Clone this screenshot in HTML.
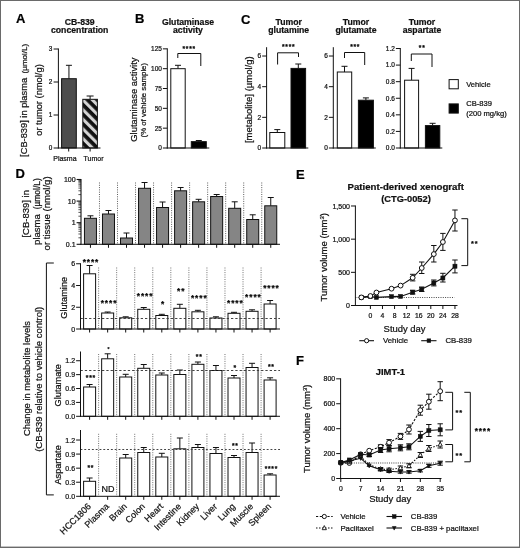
<!DOCTYPE html>
<html lang="en"><head><meta charset="utf-8"><title>CB-839 figure</title>
<style>html,body{margin:0;padding:0;background:#fff;}svg{display:block;}text{font-family:"Liberation Sans",sans-serif;stroke:#111;stroke-width:0.22px;}</style></head>
<body>
<svg width="520" height="548" viewBox="0 0 520 548" font-family='"Liberation Sans", sans-serif'>
<defs><pattern id="hatch" width="6.8" height="6.8" patternUnits="userSpaceOnUse" patternTransform="rotate(45 0 0)"><rect width="6.8" height="6.8" fill="#d4d4d4"/><rect x="0" y="0" width="6.8" height="3.7" fill="#111"/></pattern></defs>
<rect x="0" y="0" width="520" height="548" fill="#fff"/>
<text x="16.00" y="23.00" font-size="13" text-anchor="start" fill="#000" font-weight="bold">A</text>
<text x="135.00" y="23.00" font-size="13" text-anchor="start" fill="#000" font-weight="bold">B</text>
<text x="241.00" y="23.50" font-size="13" text-anchor="start" fill="#000" font-weight="bold">C</text>
<text x="15.60" y="178.30" font-size="13" text-anchor="start" fill="#000" font-weight="bold">D</text>
<text x="296.00" y="178.50" font-size="13" text-anchor="start" fill="#000" font-weight="bold">E</text>
<text x="296.00" y="364.50" font-size="13" text-anchor="start" fill="#000" font-weight="bold">F</text>
<text x="79.70" y="25.00" font-size="8.7" text-anchor="middle" fill="#111" font-weight="bold">CB-839</text>
<text x="79.70" y="33.30" font-size="8.7" text-anchor="middle" fill="#111" font-weight="bold">concentration</text>
<line x1="68.95" y1="65.30" x2="68.95" y2="78.70" stroke="#111" stroke-width="1" stroke-linecap="butt"/>
<line x1="65.95" y1="65.30" x2="71.95" y2="65.30" stroke="#111" stroke-width="1" stroke-linecap="butt"/>
<rect x="61.60" y="78.70" width="14.70" height="69.30" fill="#4d4d4d" stroke="#111" stroke-width="1"/>
<line x1="90.10" y1="96.00" x2="90.10" y2="99.32" stroke="#111" stroke-width="1" stroke-linecap="butt"/>
<line x1="86.60" y1="96.00" x2="93.60" y2="96.00" stroke="#111" stroke-width="1" stroke-linecap="butt"/>
<rect x="82.80" y="99.32" width="14.60" height="48.68" fill="url(#hatch)" stroke="#111" stroke-width="1"/>
<line x1="58.40" y1="48.50" x2="58.40" y2="148.50" stroke="#111" stroke-width="1" stroke-linecap="butt"/>
<line x1="53.60" y1="148.00" x2="58.40" y2="148.00" stroke="#111" stroke-width="1" stroke-linecap="butt"/>
<text x="52.40" y="150.30" font-size="6.4" text-anchor="end" fill="#111">0</text>
<line x1="53.60" y1="115.00" x2="58.40" y2="115.00" stroke="#111" stroke-width="1" stroke-linecap="butt"/>
<text x="52.40" y="117.30" font-size="6.4" text-anchor="end" fill="#111">1</text>
<line x1="53.60" y1="82.00" x2="58.40" y2="82.00" stroke="#111" stroke-width="1" stroke-linecap="butt"/>
<text x="52.40" y="84.30" font-size="6.4" text-anchor="end" fill="#111">2</text>
<line x1="53.60" y1="49.00" x2="58.40" y2="49.00" stroke="#111" stroke-width="1" stroke-linecap="butt"/>
<text x="52.40" y="51.30" font-size="6.4" text-anchor="end" fill="#111">3</text>
<line x1="57.90" y1="148.00" x2="100.50" y2="148.00" stroke="#111" stroke-width="1" stroke-linecap="butt"/>
<line x1="68.70" y1="148.00" x2="68.70" y2="151.50" stroke="#111" stroke-width="1" stroke-linecap="butt"/>
<line x1="90.10" y1="148.00" x2="90.10" y2="151.50" stroke="#111" stroke-width="1" stroke-linecap="butt"/>
<text x="64.90" y="160.50" font-size="7.0" text-anchor="middle" fill="#111">Plasma</text>
<text x="93.50" y="160.50" font-size="7.0" text-anchor="middle" fill="#111">Tumor</text>
<text x="27.20" y="156.90" font-size="9.3" text-anchor="start" fill="#111" transform="rotate(-90 27.20 156.90)" textLength="79.00" lengthAdjust="spacingAndGlyphs">[CB-839] in plasma</text>
<text x="26.90" y="73.40" font-size="7.8" text-anchor="start" fill="#111" transform="rotate(-90 26.90 73.40)" textLength="29.60" lengthAdjust="spacingAndGlyphs">(µmol/L)</text>
<text x="41.90" y="100.00" font-size="9.3" text-anchor="middle" fill="#111" transform="rotate(-90 41.90 100.00)" textLength="71.50" lengthAdjust="spacingAndGlyphs">or tumor (nmol/g)</text>
<text x="188.00" y="25.00" font-size="8.7" text-anchor="middle" fill="#111" font-weight="bold">Glutaminase</text>
<text x="188.00" y="33.10" font-size="8.7" text-anchor="middle" fill="#111" font-weight="bold">activity</text>
<line x1="178.00" y1="65.30" x2="178.00" y2="68.68" stroke="#111" stroke-width="1" stroke-linecap="butt"/>
<line x1="175.00" y1="65.30" x2="181.00" y2="65.30" stroke="#111" stroke-width="1" stroke-linecap="butt"/>
<rect x="170.80" y="68.68" width="14.40" height="79.32" fill="#fff" stroke="#111" stroke-width="1"/>
<line x1="198.80" y1="140.50" x2="198.80" y2="141.65" stroke="#111" stroke-width="1" stroke-linecap="butt"/>
<line x1="195.80" y1="140.50" x2="201.80" y2="140.50" stroke="#111" stroke-width="1" stroke-linecap="butt"/>
<rect x="191.30" y="141.65" width="15.00" height="6.35" fill="#000" stroke="#111" stroke-width="1"/>
<line x1="167.30" y1="48.35" x2="167.30" y2="148.50" stroke="#111" stroke-width="1" stroke-linecap="butt"/>
<line x1="162.90" y1="148.00" x2="167.30" y2="148.00" stroke="#111" stroke-width="1" stroke-linecap="butt"/>
<text x="161.90" y="150.34" font-size="6.5" text-anchor="end" fill="#111">0</text>
<line x1="162.90" y1="128.17" x2="167.30" y2="128.17" stroke="#111" stroke-width="1" stroke-linecap="butt"/>
<text x="161.90" y="130.51" font-size="6.5" text-anchor="end" fill="#111">25</text>
<line x1="162.90" y1="108.34" x2="167.30" y2="108.34" stroke="#111" stroke-width="1" stroke-linecap="butt"/>
<text x="161.90" y="110.68" font-size="6.5" text-anchor="end" fill="#111">50</text>
<line x1="162.90" y1="88.51" x2="167.30" y2="88.51" stroke="#111" stroke-width="1" stroke-linecap="butt"/>
<text x="161.90" y="90.85" font-size="6.5" text-anchor="end" fill="#111">75</text>
<line x1="162.90" y1="68.68" x2="167.30" y2="68.68" stroke="#111" stroke-width="1" stroke-linecap="butt"/>
<text x="161.90" y="71.02" font-size="6.5" text-anchor="end" fill="#111">100</text>
<line x1="162.90" y1="48.85" x2="167.30" y2="48.85" stroke="#111" stroke-width="1" stroke-linecap="butt"/>
<text x="161.90" y="51.19" font-size="6.5" text-anchor="end" fill="#111">125</text>
<line x1="166.80" y1="148.00" x2="209.30" y2="148.00" stroke="#111" stroke-width="1" stroke-linecap="butt"/>
<path d="M177.80 58.00 V53.50 H200.80 V66.00" fill="none" stroke="#111" stroke-width="1"/>
<text x="189.17" y="50.80" font-size="6.6" text-anchor="middle" fill="#000" font-weight="bold" letter-spacing="0.73" stroke="#000" stroke-width="0.3">****</text>
<text x="137.10" y="99.60" font-size="9.5" text-anchor="middle" fill="#111" transform="rotate(-90 137.10 99.60)" textLength="84.30" lengthAdjust="spacingAndGlyphs">Glutaminase activity</text>
<text x="146.50" y="100.20" font-size="7.7" text-anchor="middle" fill="#111" transform="rotate(-90 146.50 100.20)" textLength="74.50" lengthAdjust="spacingAndGlyphs">(% of vehicle sample)</text>
<text x="288.70" y="25.00" font-size="8.7" text-anchor="middle" fill="#111" font-weight="bold">Tumor</text>
<text x="288.70" y="33.10" font-size="8.7" text-anchor="middle" fill="#111" font-weight="bold">glutamine</text>
<line x1="277.30" y1="129.60" x2="277.30" y2="132.50" stroke="#111" stroke-width="1" stroke-linecap="butt"/>
<line x1="274.30" y1="129.60" x2="280.30" y2="129.60" stroke="#111" stroke-width="1" stroke-linecap="butt"/>
<rect x="269.80" y="132.50" width="15.00" height="15.50" fill="#fff" stroke="#111" stroke-width="1"/>
<line x1="298.30" y1="64.00" x2="298.30" y2="68.40" stroke="#111" stroke-width="1" stroke-linecap="butt"/>
<line x1="295.30" y1="64.00" x2="301.30" y2="64.00" stroke="#111" stroke-width="1" stroke-linecap="butt"/>
<rect x="291.00" y="68.40" width="14.60" height="79.60" fill="#000" stroke="#111" stroke-width="1"/>
<line x1="266.60" y1="47.20" x2="266.60" y2="148.50" stroke="#111" stroke-width="1" stroke-linecap="butt"/>
<line x1="262.20" y1="148.00" x2="266.60" y2="148.00" stroke="#111" stroke-width="1" stroke-linecap="butt"/>
<text x="261.20" y="150.34" font-size="6.5" text-anchor="end" fill="#111">0</text>
<line x1="262.20" y1="117.34" x2="266.60" y2="117.34" stroke="#111" stroke-width="1" stroke-linecap="butt"/>
<text x="261.20" y="119.68" font-size="6.5" text-anchor="end" fill="#111">2</text>
<line x1="262.20" y1="86.68" x2="266.60" y2="86.68" stroke="#111" stroke-width="1" stroke-linecap="butt"/>
<text x="261.20" y="89.02" font-size="6.5" text-anchor="end" fill="#111">4</text>
<line x1="262.20" y1="56.02" x2="266.60" y2="56.02" stroke="#111" stroke-width="1" stroke-linecap="butt"/>
<text x="261.20" y="58.36" font-size="6.5" text-anchor="end" fill="#111">6</text>
<line x1="266.10" y1="148.00" x2="308.30" y2="148.00" stroke="#111" stroke-width="1" stroke-linecap="butt"/>
<path d="M277.60 64.50 V52.80 H298.50 V57.00" fill="none" stroke="#111" stroke-width="1"/>
<text x="288.67" y="49.10" font-size="6.6" text-anchor="middle" fill="#000" font-weight="bold" letter-spacing="0.73" stroke="#000" stroke-width="0.3">****</text>
<text x="356.00" y="25.00" font-size="8.7" text-anchor="middle" fill="#111" font-weight="bold">Tumor</text>
<text x="356.00" y="33.10" font-size="8.7" text-anchor="middle" fill="#111" font-weight="bold">glutamate</text>
<line x1="344.50" y1="66.30" x2="344.50" y2="72.00" stroke="#111" stroke-width="1" stroke-linecap="butt"/>
<line x1="341.50" y1="66.30" x2="347.50" y2="66.30" stroke="#111" stroke-width="1" stroke-linecap="butt"/>
<rect x="337.30" y="72.00" width="14.40" height="76.00" fill="#fff" stroke="#111" stroke-width="1"/>
<line x1="365.90" y1="97.90" x2="365.90" y2="100.20" stroke="#111" stroke-width="1" stroke-linecap="butt"/>
<line x1="362.90" y1="97.90" x2="368.90" y2="97.90" stroke="#111" stroke-width="1" stroke-linecap="butt"/>
<rect x="358.40" y="100.20" width="15.00" height="47.80" fill="#000" stroke="#111" stroke-width="1"/>
<line x1="333.30" y1="47.20" x2="333.30" y2="148.50" stroke="#111" stroke-width="1" stroke-linecap="butt"/>
<line x1="328.90" y1="148.00" x2="333.30" y2="148.00" stroke="#111" stroke-width="1" stroke-linecap="butt"/>
<text x="327.90" y="150.34" font-size="6.5" text-anchor="end" fill="#111">0</text>
<line x1="328.90" y1="117.34" x2="333.30" y2="117.34" stroke="#111" stroke-width="1" stroke-linecap="butt"/>
<text x="327.90" y="119.68" font-size="6.5" text-anchor="end" fill="#111">2</text>
<line x1="328.90" y1="86.68" x2="333.30" y2="86.68" stroke="#111" stroke-width="1" stroke-linecap="butt"/>
<text x="327.90" y="89.02" font-size="6.5" text-anchor="end" fill="#111">4</text>
<line x1="328.90" y1="56.02" x2="333.30" y2="56.02" stroke="#111" stroke-width="1" stroke-linecap="butt"/>
<text x="327.90" y="58.36" font-size="6.5" text-anchor="end" fill="#111">6</text>
<line x1="332.80" y1="148.00" x2="375.80" y2="148.00" stroke="#111" stroke-width="1" stroke-linecap="butt"/>
<path d="M344.50 58.00 V52.50 H364.70 V65.00" fill="none" stroke="#111" stroke-width="1"/>
<text x="355.17" y="49.10" font-size="6.6" text-anchor="middle" fill="#000" font-weight="bold" letter-spacing="0.73" stroke="#000" stroke-width="0.3">***</text>
<text x="422.00" y="25.00" font-size="8.7" text-anchor="middle" fill="#111" font-weight="bold">Tumor</text>
<text x="422.00" y="33.10" font-size="8.7" text-anchor="middle" fill="#111" font-weight="bold">aspartate</text>
<line x1="411.60" y1="68.40" x2="411.60" y2="80.20" stroke="#111" stroke-width="1" stroke-linecap="butt"/>
<line x1="408.60" y1="68.40" x2="414.60" y2="68.40" stroke="#111" stroke-width="1" stroke-linecap="butt"/>
<rect x="404.60" y="80.20" width="14.00" height="67.80" fill="#fff" stroke="#111" stroke-width="1"/>
<line x1="432.60" y1="123.30" x2="432.60" y2="125.60" stroke="#111" stroke-width="1" stroke-linecap="butt"/>
<line x1="429.60" y1="123.30" x2="435.60" y2="123.30" stroke="#111" stroke-width="1" stroke-linecap="butt"/>
<rect x="425.40" y="125.60" width="14.40" height="22.40" fill="#000" stroke="#111" stroke-width="1"/>
<line x1="400.30" y1="48.02" x2="400.30" y2="148.50" stroke="#111" stroke-width="1" stroke-linecap="butt"/>
<line x1="395.90" y1="148.00" x2="400.30" y2="148.00" stroke="#111" stroke-width="1" stroke-linecap="butt"/>
<text x="394.90" y="150.34" font-size="6.5" text-anchor="end" fill="#111">0.0</text>
<line x1="395.90" y1="131.42" x2="400.30" y2="131.42" stroke="#111" stroke-width="1" stroke-linecap="butt"/>
<text x="394.90" y="133.76" font-size="6.5" text-anchor="end" fill="#111">0.2</text>
<line x1="395.90" y1="114.84" x2="400.30" y2="114.84" stroke="#111" stroke-width="1" stroke-linecap="butt"/>
<text x="394.90" y="117.18" font-size="6.5" text-anchor="end" fill="#111">0.4</text>
<line x1="395.90" y1="98.26" x2="400.30" y2="98.26" stroke="#111" stroke-width="1" stroke-linecap="butt"/>
<text x="394.90" y="100.60" font-size="6.5" text-anchor="end" fill="#111">0.6</text>
<line x1="395.90" y1="81.68" x2="400.30" y2="81.68" stroke="#111" stroke-width="1" stroke-linecap="butt"/>
<text x="394.90" y="84.02" font-size="6.5" text-anchor="end" fill="#111">0.8</text>
<line x1="395.90" y1="65.10" x2="400.30" y2="65.10" stroke="#111" stroke-width="1" stroke-linecap="butt"/>
<text x="394.90" y="67.44" font-size="6.5" text-anchor="end" fill="#111">1.0</text>
<line x1="395.90" y1="48.52" x2="400.30" y2="48.52" stroke="#111" stroke-width="1" stroke-linecap="butt"/>
<text x="394.90" y="50.86" font-size="6.5" text-anchor="end" fill="#111">1.2</text>
<line x1="399.80" y1="148.00" x2="442.30" y2="148.00" stroke="#111" stroke-width="1" stroke-linecap="butt"/>
<path d="M411.30 61.00 V54.00 H432.00 V67.00" fill="none" stroke="#111" stroke-width="1"/>
<text x="422.17" y="49.80" font-size="6.6" text-anchor="middle" fill="#000" font-weight="bold" letter-spacing="0.73" stroke="#000" stroke-width="0.3">**</text>
<text x="252.50" y="99.70" font-size="9.5" text-anchor="middle" fill="#111" transform="rotate(-90 252.50 99.70)" textLength="86.60" lengthAdjust="spacingAndGlyphs">[metabolite] (µmol/g)</text>
<rect x="449.10" y="79.60" width="9.20" height="9.20" fill="#fff" stroke="#111" stroke-width="1"/>
<rect x="449.10" y="103.90" width="9.20" height="9.20" fill="#000" stroke="#111" stroke-width="1"/>
<text x="466.20" y="86.70" font-size="7.6" text-anchor="start" fill="#111">Vehicle</text>
<text x="466.20" y="105.60" font-size="7.6" text-anchor="start" fill="#111">CB-839</text>
<text x="466.20" y="116.20" font-size="7.6" text-anchor="start" fill="#111">(200 mg/kg)</text>
<line x1="99.47" y1="182.50" x2="99.47" y2="244.30" stroke="#333" stroke-width="0.8" stroke-dasharray="1 1.3" stroke-linecap="butt"/>
<line x1="117.50" y1="182.50" x2="117.50" y2="244.30" stroke="#333" stroke-width="0.8" stroke-dasharray="1 1.3" stroke-linecap="butt"/>
<line x1="135.53" y1="182.50" x2="135.53" y2="244.30" stroke="#333" stroke-width="0.8" stroke-dasharray="1 1.3" stroke-linecap="butt"/>
<line x1="153.56" y1="182.50" x2="153.56" y2="244.30" stroke="#333" stroke-width="0.8" stroke-dasharray="1 1.3" stroke-linecap="butt"/>
<line x1="171.59" y1="182.50" x2="171.59" y2="244.30" stroke="#333" stroke-width="0.8" stroke-dasharray="1 1.3" stroke-linecap="butt"/>
<line x1="189.62" y1="182.50" x2="189.62" y2="244.30" stroke="#333" stroke-width="0.8" stroke-dasharray="1 1.3" stroke-linecap="butt"/>
<line x1="207.65" y1="182.50" x2="207.65" y2="244.30" stroke="#333" stroke-width="0.8" stroke-dasharray="1 1.3" stroke-linecap="butt"/>
<line x1="225.68" y1="182.50" x2="225.68" y2="244.30" stroke="#333" stroke-width="0.8" stroke-dasharray="1 1.3" stroke-linecap="butt"/>
<line x1="243.71" y1="182.50" x2="243.71" y2="244.30" stroke="#333" stroke-width="0.8" stroke-dasharray="1 1.3" stroke-linecap="butt"/>
<line x1="261.74" y1="182.50" x2="261.74" y2="244.30" stroke="#333" stroke-width="0.8" stroke-dasharray="1 1.3" stroke-linecap="butt"/>
<line x1="90.45" y1="215.80" x2="90.45" y2="218.30" stroke="#111" stroke-width="1" stroke-linecap="butt"/>
<line x1="87.45" y1="215.80" x2="93.45" y2="215.80" stroke="#111" stroke-width="1" stroke-linecap="butt"/>
<rect x="84.45" y="218.30" width="12.00" height="26.00" fill="#858585" stroke="#111" stroke-width="1"/>
<line x1="108.48" y1="210.50" x2="108.48" y2="214.00" stroke="#111" stroke-width="1" stroke-linecap="butt"/>
<line x1="105.48" y1="210.50" x2="111.48" y2="210.50" stroke="#111" stroke-width="1" stroke-linecap="butt"/>
<rect x="102.48" y="214.00" width="12.00" height="30.30" fill="#858585" stroke="#111" stroke-width="1"/>
<line x1="126.51" y1="233.00" x2="126.51" y2="238.00" stroke="#111" stroke-width="1" stroke-linecap="butt"/>
<line x1="123.51" y1="233.00" x2="129.51" y2="233.00" stroke="#111" stroke-width="1" stroke-linecap="butt"/>
<rect x="120.51" y="238.00" width="12.00" height="6.30" fill="#858585" stroke="#111" stroke-width="1"/>
<line x1="144.54" y1="182.50" x2="144.54" y2="188.30" stroke="#111" stroke-width="1" stroke-linecap="butt"/>
<line x1="141.54" y1="182.50" x2="147.54" y2="182.50" stroke="#111" stroke-width="1" stroke-linecap="butt"/>
<rect x="138.54" y="188.30" width="12.00" height="56.00" fill="#858585" stroke="#111" stroke-width="1"/>
<line x1="162.57" y1="202.00" x2="162.57" y2="207.50" stroke="#111" stroke-width="1" stroke-linecap="butt"/>
<line x1="159.57" y1="202.00" x2="165.57" y2="202.00" stroke="#111" stroke-width="1" stroke-linecap="butt"/>
<rect x="156.57" y="207.50" width="12.00" height="36.80" fill="#858585" stroke="#111" stroke-width="1"/>
<line x1="180.60" y1="187.50" x2="180.60" y2="190.80" stroke="#111" stroke-width="1" stroke-linecap="butt"/>
<line x1="177.60" y1="187.50" x2="183.60" y2="187.50" stroke="#111" stroke-width="1" stroke-linecap="butt"/>
<rect x="174.60" y="190.80" width="12.00" height="53.50" fill="#858585" stroke="#111" stroke-width="1"/>
<line x1="198.63" y1="199.30" x2="198.63" y2="201.80" stroke="#111" stroke-width="1" stroke-linecap="butt"/>
<line x1="195.63" y1="199.30" x2="201.63" y2="199.30" stroke="#111" stroke-width="1" stroke-linecap="butt"/>
<rect x="192.63" y="201.80" width="12.00" height="42.50" fill="#858585" stroke="#111" stroke-width="1"/>
<line x1="216.66" y1="194.50" x2="216.66" y2="196.50" stroke="#111" stroke-width="1" stroke-linecap="butt"/>
<line x1="213.66" y1="194.50" x2="219.66" y2="194.50" stroke="#111" stroke-width="1" stroke-linecap="butt"/>
<rect x="210.66" y="196.50" width="12.00" height="47.80" fill="#858585" stroke="#111" stroke-width="1"/>
<line x1="234.69" y1="201.80" x2="234.69" y2="208.30" stroke="#111" stroke-width="1" stroke-linecap="butt"/>
<line x1="231.69" y1="201.80" x2="237.69" y2="201.80" stroke="#111" stroke-width="1" stroke-linecap="butt"/>
<rect x="228.69" y="208.30" width="12.00" height="36.00" fill="#858585" stroke="#111" stroke-width="1"/>
<line x1="252.72" y1="214.80" x2="252.72" y2="219.50" stroke="#111" stroke-width="1" stroke-linecap="butt"/>
<line x1="249.72" y1="214.80" x2="255.72" y2="214.80" stroke="#111" stroke-width="1" stroke-linecap="butt"/>
<rect x="246.72" y="219.50" width="12.00" height="24.80" fill="#858585" stroke="#111" stroke-width="1"/>
<line x1="270.75" y1="197.50" x2="270.75" y2="205.80" stroke="#111" stroke-width="1" stroke-linecap="butt"/>
<line x1="267.75" y1="197.50" x2="273.75" y2="197.50" stroke="#111" stroke-width="1" stroke-linecap="butt"/>
<rect x="264.75" y="205.80" width="12.00" height="38.50" fill="#858585" stroke="#111" stroke-width="1"/>
<line x1="81.00" y1="178.95" x2="81.00" y2="244.85" stroke="#111" stroke-width="1.1" stroke-linecap="butt"/>
<line x1="76.60" y1="244.30" x2="81.00" y2="244.30" stroke="#111" stroke-width="1.1" stroke-linecap="butt"/>
<text x="75.60" y="246.82" font-size="7.0" text-anchor="end" fill="#111">0.1</text>
<line x1="76.60" y1="222.70" x2="81.00" y2="222.70" stroke="#111" stroke-width="1.1" stroke-linecap="butt"/>
<text x="75.60" y="225.22" font-size="7.0" text-anchor="end" fill="#111">1</text>
<line x1="76.60" y1="201.10" x2="81.00" y2="201.10" stroke="#111" stroke-width="1.1" stroke-linecap="butt"/>
<text x="75.60" y="203.62" font-size="7.0" text-anchor="end" fill="#111">10</text>
<line x1="76.60" y1="179.50" x2="81.00" y2="179.50" stroke="#111" stroke-width="1.1" stroke-linecap="butt"/>
<text x="75.60" y="182.02" font-size="7.0" text-anchor="end" fill="#111">100</text>
<line x1="78.40" y1="237.80" x2="81.00" y2="237.80" stroke="#111" stroke-width="0.7" stroke-linecap="butt"/>
<line x1="78.40" y1="233.99" x2="81.00" y2="233.99" stroke="#111" stroke-width="0.7" stroke-linecap="butt"/>
<line x1="78.40" y1="231.30" x2="81.00" y2="231.30" stroke="#111" stroke-width="0.7" stroke-linecap="butt"/>
<line x1="78.40" y1="229.20" x2="81.00" y2="229.20" stroke="#111" stroke-width="0.7" stroke-linecap="butt"/>
<line x1="78.40" y1="227.49" x2="81.00" y2="227.49" stroke="#111" stroke-width="0.7" stroke-linecap="butt"/>
<line x1="78.40" y1="226.05" x2="81.00" y2="226.05" stroke="#111" stroke-width="0.7" stroke-linecap="butt"/>
<line x1="78.40" y1="224.79" x2="81.00" y2="224.79" stroke="#111" stroke-width="0.7" stroke-linecap="butt"/>
<line x1="78.40" y1="223.69" x2="81.00" y2="223.69" stroke="#111" stroke-width="0.7" stroke-linecap="butt"/>
<line x1="78.40" y1="216.20" x2="81.00" y2="216.20" stroke="#111" stroke-width="0.7" stroke-linecap="butt"/>
<line x1="78.40" y1="212.39" x2="81.00" y2="212.39" stroke="#111" stroke-width="0.7" stroke-linecap="butt"/>
<line x1="78.40" y1="209.70" x2="81.00" y2="209.70" stroke="#111" stroke-width="0.7" stroke-linecap="butt"/>
<line x1="78.40" y1="207.60" x2="81.00" y2="207.60" stroke="#111" stroke-width="0.7" stroke-linecap="butt"/>
<line x1="78.40" y1="205.89" x2="81.00" y2="205.89" stroke="#111" stroke-width="0.7" stroke-linecap="butt"/>
<line x1="78.40" y1="204.45" x2="81.00" y2="204.45" stroke="#111" stroke-width="0.7" stroke-linecap="butt"/>
<line x1="78.40" y1="203.19" x2="81.00" y2="203.19" stroke="#111" stroke-width="0.7" stroke-linecap="butt"/>
<line x1="78.40" y1="202.09" x2="81.00" y2="202.09" stroke="#111" stroke-width="0.7" stroke-linecap="butt"/>
<line x1="78.40" y1="194.60" x2="81.00" y2="194.60" stroke="#111" stroke-width="0.7" stroke-linecap="butt"/>
<line x1="78.40" y1="190.79" x2="81.00" y2="190.79" stroke="#111" stroke-width="0.7" stroke-linecap="butt"/>
<line x1="78.40" y1="188.10" x2="81.00" y2="188.10" stroke="#111" stroke-width="0.7" stroke-linecap="butt"/>
<line x1="78.40" y1="186.00" x2="81.00" y2="186.00" stroke="#111" stroke-width="0.7" stroke-linecap="butt"/>
<line x1="78.40" y1="184.29" x2="81.00" y2="184.29" stroke="#111" stroke-width="0.7" stroke-linecap="butt"/>
<line x1="78.40" y1="182.85" x2="81.00" y2="182.85" stroke="#111" stroke-width="0.7" stroke-linecap="butt"/>
<line x1="78.40" y1="181.59" x2="81.00" y2="181.59" stroke="#111" stroke-width="0.7" stroke-linecap="butt"/>
<line x1="78.40" y1="180.49" x2="81.00" y2="180.49" stroke="#111" stroke-width="0.7" stroke-linecap="butt"/>
<line x1="80.50" y1="244.30" x2="280.00" y2="244.30" stroke="#111" stroke-width="1" stroke-linecap="butt"/>
<line x1="90.45" y1="244.30" x2="90.45" y2="247.80" stroke="#111" stroke-width="1" stroke-linecap="butt"/>
<line x1="108.48" y1="244.30" x2="108.48" y2="247.80" stroke="#111" stroke-width="1" stroke-linecap="butt"/>
<line x1="126.51" y1="244.30" x2="126.51" y2="247.80" stroke="#111" stroke-width="1" stroke-linecap="butt"/>
<line x1="144.54" y1="244.30" x2="144.54" y2="247.80" stroke="#111" stroke-width="1" stroke-linecap="butt"/>
<line x1="162.57" y1="244.30" x2="162.57" y2="247.80" stroke="#111" stroke-width="1" stroke-linecap="butt"/>
<line x1="180.60" y1="244.30" x2="180.60" y2="247.80" stroke="#111" stroke-width="1" stroke-linecap="butt"/>
<line x1="198.63" y1="244.30" x2="198.63" y2="247.80" stroke="#111" stroke-width="1" stroke-linecap="butt"/>
<line x1="216.66" y1="244.30" x2="216.66" y2="247.80" stroke="#111" stroke-width="1" stroke-linecap="butt"/>
<line x1="234.69" y1="244.30" x2="234.69" y2="247.80" stroke="#111" stroke-width="1" stroke-linecap="butt"/>
<line x1="252.72" y1="244.30" x2="252.72" y2="247.80" stroke="#111" stroke-width="1" stroke-linecap="butt"/>
<line x1="270.75" y1="244.30" x2="270.75" y2="247.80" stroke="#111" stroke-width="1" stroke-linecap="butt"/>
<text x="28.70" y="213.80" font-size="9.5" text-anchor="middle" fill="#111" transform="rotate(-90 28.70 213.80)" textLength="47.50" lengthAdjust="spacingAndGlyphs">[CB-839] in</text>
<text x="40.30" y="244.90" font-size="9.5" text-anchor="start" fill="#111" transform="rotate(-90 40.30 244.90)">plasma</text>
<text x="40.30" y="209.30" font-size="8.5" text-anchor="start" fill="#111" transform="rotate(-90 40.30 209.30)" textLength="31.00" lengthAdjust="spacingAndGlyphs">(µmol/L)</text>
<text x="50.30" y="213.40" font-size="9.5" text-anchor="middle" fill="#111" transform="rotate(-90 50.30 213.40)" textLength="74.00" lengthAdjust="spacingAndGlyphs">or tissue (nmol/g)</text>
<line x1="98.62" y1="267.50" x2="98.62" y2="329.00" stroke="#444" stroke-width="0.75" stroke-dasharray="1 1.3" stroke-linecap="butt"/>
<line x1="116.67" y1="267.50" x2="116.67" y2="329.00" stroke="#444" stroke-width="0.75" stroke-dasharray="1 1.3" stroke-linecap="butt"/>
<line x1="134.72" y1="267.50" x2="134.72" y2="329.00" stroke="#444" stroke-width="0.75" stroke-dasharray="1 1.3" stroke-linecap="butt"/>
<line x1="152.78" y1="267.50" x2="152.78" y2="329.00" stroke="#444" stroke-width="0.75" stroke-dasharray="1 1.3" stroke-linecap="butt"/>
<line x1="170.82" y1="267.50" x2="170.82" y2="329.00" stroke="#444" stroke-width="0.75" stroke-dasharray="1 1.3" stroke-linecap="butt"/>
<line x1="188.88" y1="267.50" x2="188.88" y2="329.00" stroke="#444" stroke-width="0.75" stroke-dasharray="1 1.3" stroke-linecap="butt"/>
<line x1="206.93" y1="267.50" x2="206.93" y2="329.00" stroke="#444" stroke-width="0.75" stroke-dasharray="1 1.3" stroke-linecap="butt"/>
<line x1="224.97" y1="267.50" x2="224.97" y2="329.00" stroke="#444" stroke-width="0.75" stroke-dasharray="1 1.3" stroke-linecap="butt"/>
<line x1="243.03" y1="267.50" x2="243.03" y2="329.00" stroke="#444" stroke-width="0.75" stroke-dasharray="1 1.3" stroke-linecap="butt"/>
<line x1="261.08" y1="267.50" x2="261.08" y2="329.00" stroke="#444" stroke-width="0.75" stroke-dasharray="1 1.3" stroke-linecap="butt"/>
<line x1="89.60" y1="265.50" x2="89.60" y2="273.80" stroke="#111" stroke-width="1" stroke-linecap="butt"/>
<line x1="86.60" y1="265.50" x2="92.60" y2="265.50" stroke="#111" stroke-width="1" stroke-linecap="butt"/>
<rect x="83.60" y="273.80" width="12.00" height="55.20" fill="#fff" stroke="#111" stroke-width="1"/>
<line x1="107.65" y1="312.00" x2="107.65" y2="313.00" stroke="#111" stroke-width="1" stroke-linecap="butt"/>
<line x1="104.65" y1="312.00" x2="110.65" y2="312.00" stroke="#111" stroke-width="1" stroke-linecap="butt"/>
<rect x="101.65" y="313.00" width="12.00" height="16.00" fill="#fff" stroke="#111" stroke-width="1"/>
<line x1="125.70" y1="316.80" x2="125.70" y2="317.80" stroke="#111" stroke-width="1" stroke-linecap="butt"/>
<line x1="122.70" y1="316.80" x2="128.70" y2="316.80" stroke="#111" stroke-width="1" stroke-linecap="butt"/>
<rect x="119.70" y="317.80" width="12.00" height="11.20" fill="#fff" stroke="#111" stroke-width="1"/>
<line x1="143.75" y1="307.50" x2="143.75" y2="309.30" stroke="#111" stroke-width="1" stroke-linecap="butt"/>
<line x1="140.75" y1="307.50" x2="146.75" y2="307.50" stroke="#111" stroke-width="1" stroke-linecap="butt"/>
<rect x="137.75" y="309.30" width="12.00" height="19.70" fill="#fff" stroke="#111" stroke-width="1"/>
<line x1="161.80" y1="314.30" x2="161.80" y2="315.50" stroke="#111" stroke-width="1" stroke-linecap="butt"/>
<line x1="158.80" y1="314.30" x2="164.80" y2="314.30" stroke="#111" stroke-width="1" stroke-linecap="butt"/>
<rect x="155.80" y="315.50" width="12.00" height="13.50" fill="#fff" stroke="#111" stroke-width="1"/>
<line x1="179.85" y1="304.30" x2="179.85" y2="308.30" stroke="#111" stroke-width="1" stroke-linecap="butt"/>
<line x1="176.85" y1="304.30" x2="182.85" y2="304.30" stroke="#111" stroke-width="1" stroke-linecap="butt"/>
<rect x="173.85" y="308.30" width="12.00" height="20.70" fill="#fff" stroke="#111" stroke-width="1"/>
<line x1="197.90" y1="310.30" x2="197.90" y2="311.80" stroke="#111" stroke-width="1" stroke-linecap="butt"/>
<line x1="194.90" y1="310.30" x2="200.90" y2="310.30" stroke="#111" stroke-width="1" stroke-linecap="butt"/>
<rect x="191.90" y="311.80" width="12.00" height="17.20" fill="#fff" stroke="#111" stroke-width="1"/>
<line x1="215.95" y1="316.80" x2="215.95" y2="318.00" stroke="#111" stroke-width="1" stroke-linecap="butt"/>
<line x1="212.95" y1="316.80" x2="218.95" y2="316.80" stroke="#111" stroke-width="1" stroke-linecap="butt"/>
<rect x="209.95" y="318.00" width="12.00" height="11.00" fill="#fff" stroke="#111" stroke-width="1"/>
<line x1="234.00" y1="312.30" x2="234.00" y2="313.30" stroke="#111" stroke-width="1" stroke-linecap="butt"/>
<line x1="231.00" y1="312.30" x2="237.00" y2="312.30" stroke="#111" stroke-width="1" stroke-linecap="butt"/>
<rect x="228.00" y="313.30" width="12.00" height="15.70" fill="#fff" stroke="#111" stroke-width="1"/>
<line x1="252.05" y1="309.80" x2="252.05" y2="311.30" stroke="#111" stroke-width="1" stroke-linecap="butt"/>
<line x1="249.05" y1="309.80" x2="255.05" y2="309.80" stroke="#111" stroke-width="1" stroke-linecap="butt"/>
<rect x="246.05" y="311.30" width="12.00" height="17.70" fill="#fff" stroke="#111" stroke-width="1"/>
<line x1="270.10" y1="300.50" x2="270.10" y2="304.00" stroke="#111" stroke-width="1" stroke-linecap="butt"/>
<line x1="267.10" y1="300.50" x2="273.10" y2="300.50" stroke="#111" stroke-width="1" stroke-linecap="butt"/>
<rect x="264.10" y="304.00" width="12.00" height="25.00" fill="#fff" stroke="#111" stroke-width="1"/>
<line x1="80.50" y1="318.50" x2="280.00" y2="318.50" stroke="#3a3a3a" stroke-width="0.95" stroke-dasharray="2.3 2" stroke-linecap="butt"/>
<line x1="80.50" y1="263.25" x2="80.50" y2="329.50" stroke="#111" stroke-width="1" stroke-linecap="butt"/>
<line x1="76.10" y1="329.00" x2="80.50" y2="329.00" stroke="#111" stroke-width="1" stroke-linecap="butt"/>
<text x="75.10" y="331.52" font-size="7.0" text-anchor="end" fill="#111">0</text>
<line x1="76.10" y1="307.25" x2="80.50" y2="307.25" stroke="#111" stroke-width="1" stroke-linecap="butt"/>
<text x="75.10" y="309.77" font-size="7.0" text-anchor="end" fill="#111">2</text>
<line x1="76.10" y1="285.50" x2="80.50" y2="285.50" stroke="#111" stroke-width="1" stroke-linecap="butt"/>
<text x="75.10" y="288.02" font-size="7.0" text-anchor="end" fill="#111">4</text>
<line x1="76.10" y1="263.75" x2="80.50" y2="263.75" stroke="#111" stroke-width="1" stroke-linecap="butt"/>
<text x="75.10" y="266.27" font-size="7.0" text-anchor="end" fill="#111">6</text>
<line x1="80.00" y1="329.00" x2="280.00" y2="329.00" stroke="#111" stroke-width="1" stroke-linecap="butt"/>
<line x1="89.60" y1="329.00" x2="89.60" y2="332.50" stroke="#111" stroke-width="1" stroke-linecap="butt"/>
<line x1="107.65" y1="329.00" x2="107.65" y2="332.50" stroke="#111" stroke-width="1" stroke-linecap="butt"/>
<line x1="125.70" y1="329.00" x2="125.70" y2="332.50" stroke="#111" stroke-width="1" stroke-linecap="butt"/>
<line x1="143.75" y1="329.00" x2="143.75" y2="332.50" stroke="#111" stroke-width="1" stroke-linecap="butt"/>
<line x1="161.80" y1="329.00" x2="161.80" y2="332.50" stroke="#111" stroke-width="1" stroke-linecap="butt"/>
<line x1="179.85" y1="329.00" x2="179.85" y2="332.50" stroke="#111" stroke-width="1" stroke-linecap="butt"/>
<line x1="197.90" y1="329.00" x2="197.90" y2="332.50" stroke="#111" stroke-width="1" stroke-linecap="butt"/>
<line x1="215.95" y1="329.00" x2="215.95" y2="332.50" stroke="#111" stroke-width="1" stroke-linecap="butt"/>
<line x1="234.00" y1="329.00" x2="234.00" y2="332.50" stroke="#111" stroke-width="1" stroke-linecap="butt"/>
<line x1="252.05" y1="329.00" x2="252.05" y2="332.50" stroke="#111" stroke-width="1" stroke-linecap="butt"/>
<line x1="270.10" y1="329.00" x2="270.10" y2="332.50" stroke="#111" stroke-width="1" stroke-linecap="butt"/>
<text x="66.90" y="297.80" font-size="9.2" text-anchor="middle" fill="#111" transform="rotate(-90 66.90 297.80)">Glutamine</text>
<text x="90.96" y="265.45" font-size="8.3" text-anchor="middle" fill="#000" font-weight="bold" letter-spacing="0.92" stroke="#000" stroke-width="0.3">****</text>
<text x="109.01" y="305.85" font-size="8.3" text-anchor="middle" fill="#000" font-weight="bold" letter-spacing="0.92" stroke="#000" stroke-width="0.3">****</text>
<text x="145.11" y="298.55" font-size="8.3" text-anchor="middle" fill="#000" font-weight="bold" letter-spacing="0.92" stroke="#000" stroke-width="0.3">****</text>
<text x="163.16" y="307.25" font-size="8.3" text-anchor="middle" fill="#000" font-weight="bold" letter-spacing="0.92" stroke="#000" stroke-width="0.3">*</text>
<text x="181.21" y="293.75" font-size="8.3" text-anchor="middle" fill="#000" font-weight="bold" letter-spacing="0.92" stroke="#000" stroke-width="0.3">**</text>
<text x="199.26" y="301.15" font-size="8.3" text-anchor="middle" fill="#000" font-weight="bold" letter-spacing="0.92" stroke="#000" stroke-width="0.3">****</text>
<text x="235.36" y="305.95" font-size="8.3" text-anchor="middle" fill="#000" font-weight="bold" letter-spacing="0.92" stroke="#000" stroke-width="0.3">****</text>
<text x="253.41" y="299.95" font-size="8.3" text-anchor="middle" fill="#000" font-weight="bold" letter-spacing="0.92" stroke="#000" stroke-width="0.3">****</text>
<text x="271.46" y="290.95" font-size="8.3" text-anchor="middle" fill="#000" font-weight="bold" letter-spacing="0.92" stroke="#000" stroke-width="0.3">****</text>
<line x1="98.62" y1="354.00" x2="98.62" y2="416.30" stroke="#444" stroke-width="0.75" stroke-dasharray="1 1.3" stroke-linecap="butt"/>
<line x1="116.67" y1="354.00" x2="116.67" y2="416.30" stroke="#444" stroke-width="0.75" stroke-dasharray="1 1.3" stroke-linecap="butt"/>
<line x1="134.72" y1="354.00" x2="134.72" y2="416.30" stroke="#444" stroke-width="0.75" stroke-dasharray="1 1.3" stroke-linecap="butt"/>
<line x1="152.78" y1="354.00" x2="152.78" y2="416.30" stroke="#444" stroke-width="0.75" stroke-dasharray="1 1.3" stroke-linecap="butt"/>
<line x1="170.82" y1="354.00" x2="170.82" y2="416.30" stroke="#444" stroke-width="0.75" stroke-dasharray="1 1.3" stroke-linecap="butt"/>
<line x1="188.88" y1="354.00" x2="188.88" y2="416.30" stroke="#444" stroke-width="0.75" stroke-dasharray="1 1.3" stroke-linecap="butt"/>
<line x1="206.93" y1="354.00" x2="206.93" y2="416.30" stroke="#444" stroke-width="0.75" stroke-dasharray="1 1.3" stroke-linecap="butt"/>
<line x1="224.97" y1="354.00" x2="224.97" y2="416.30" stroke="#444" stroke-width="0.75" stroke-dasharray="1 1.3" stroke-linecap="butt"/>
<line x1="243.03" y1="354.00" x2="243.03" y2="416.30" stroke="#444" stroke-width="0.75" stroke-dasharray="1 1.3" stroke-linecap="butt"/>
<line x1="261.08" y1="354.00" x2="261.08" y2="416.30" stroke="#444" stroke-width="0.75" stroke-dasharray="1 1.3" stroke-linecap="butt"/>
<line x1="89.60" y1="384.50" x2="89.60" y2="387.00" stroke="#111" stroke-width="1" stroke-linecap="butt"/>
<line x1="86.60" y1="384.50" x2="92.60" y2="384.50" stroke="#111" stroke-width="1" stroke-linecap="butt"/>
<rect x="83.60" y="387.00" width="12.00" height="29.30" fill="#fff" stroke="#111" stroke-width="1"/>
<line x1="107.65" y1="353.80" x2="107.65" y2="358.80" stroke="#111" stroke-width="1" stroke-linecap="butt"/>
<line x1="104.65" y1="353.80" x2="110.65" y2="353.80" stroke="#111" stroke-width="1" stroke-linecap="butt"/>
<rect x="101.65" y="358.80" width="12.00" height="57.50" fill="#fff" stroke="#111" stroke-width="1"/>
<line x1="125.70" y1="374.30" x2="125.70" y2="377.00" stroke="#111" stroke-width="1" stroke-linecap="butt"/>
<line x1="122.70" y1="374.30" x2="128.70" y2="374.30" stroke="#111" stroke-width="1" stroke-linecap="butt"/>
<rect x="119.70" y="377.00" width="12.00" height="39.30" fill="#fff" stroke="#111" stroke-width="1"/>
<line x1="143.75" y1="364.50" x2="143.75" y2="368.30" stroke="#111" stroke-width="1" stroke-linecap="butt"/>
<line x1="140.75" y1="364.50" x2="146.75" y2="364.50" stroke="#111" stroke-width="1" stroke-linecap="butt"/>
<rect x="137.75" y="368.30" width="12.00" height="48.00" fill="#fff" stroke="#111" stroke-width="1"/>
<line x1="161.80" y1="373.00" x2="161.80" y2="375.00" stroke="#111" stroke-width="1" stroke-linecap="butt"/>
<line x1="158.80" y1="373.00" x2="164.80" y2="373.00" stroke="#111" stroke-width="1" stroke-linecap="butt"/>
<rect x="155.80" y="375.00" width="12.00" height="41.30" fill="#fff" stroke="#111" stroke-width="1"/>
<line x1="179.85" y1="370.00" x2="179.85" y2="374.50" stroke="#111" stroke-width="1" stroke-linecap="butt"/>
<line x1="176.85" y1="370.00" x2="182.85" y2="370.00" stroke="#111" stroke-width="1" stroke-linecap="butt"/>
<rect x="173.85" y="374.50" width="12.00" height="41.80" fill="#fff" stroke="#111" stroke-width="1"/>
<line x1="197.90" y1="362.00" x2="197.90" y2="364.30" stroke="#111" stroke-width="1" stroke-linecap="butt"/>
<line x1="194.90" y1="362.00" x2="200.90" y2="362.00" stroke="#111" stroke-width="1" stroke-linecap="butt"/>
<rect x="191.90" y="364.30" width="12.00" height="52.00" fill="#fff" stroke="#111" stroke-width="1"/>
<line x1="215.95" y1="365.50" x2="215.95" y2="370.50" stroke="#111" stroke-width="1" stroke-linecap="butt"/>
<line x1="212.95" y1="365.50" x2="218.95" y2="365.50" stroke="#111" stroke-width="1" stroke-linecap="butt"/>
<rect x="209.95" y="370.50" width="12.00" height="45.80" fill="#fff" stroke="#111" stroke-width="1"/>
<line x1="234.00" y1="375.50" x2="234.00" y2="378.00" stroke="#111" stroke-width="1" stroke-linecap="butt"/>
<line x1="231.00" y1="375.50" x2="237.00" y2="375.50" stroke="#111" stroke-width="1" stroke-linecap="butt"/>
<rect x="228.00" y="378.00" width="12.00" height="38.30" fill="#fff" stroke="#111" stroke-width="1"/>
<line x1="252.05" y1="363.30" x2="252.05" y2="367.50" stroke="#111" stroke-width="1" stroke-linecap="butt"/>
<line x1="249.05" y1="363.30" x2="255.05" y2="363.30" stroke="#111" stroke-width="1" stroke-linecap="butt"/>
<rect x="246.05" y="367.50" width="12.00" height="48.80" fill="#fff" stroke="#111" stroke-width="1"/>
<line x1="270.10" y1="377.80" x2="270.10" y2="380.00" stroke="#111" stroke-width="1" stroke-linecap="butt"/>
<line x1="267.10" y1="377.80" x2="273.10" y2="377.80" stroke="#111" stroke-width="1" stroke-linecap="butt"/>
<rect x="264.10" y="380.00" width="12.00" height="36.30" fill="#fff" stroke="#111" stroke-width="1"/>
<line x1="80.50" y1="370.50" x2="280.00" y2="370.50" stroke="#3a3a3a" stroke-width="0.95" stroke-dasharray="2.3 2" stroke-linecap="butt"/>
<line x1="80.50" y1="351.50" x2="80.50" y2="416.80" stroke="#111" stroke-width="1" stroke-linecap="butt"/>
<line x1="76.10" y1="416.30" x2="80.50" y2="416.30" stroke="#111" stroke-width="1" stroke-linecap="butt"/>
<text x="75.10" y="418.82" font-size="7.0" text-anchor="end" fill="#111">0.0</text>
<line x1="76.10" y1="402.41" x2="80.50" y2="402.41" stroke="#111" stroke-width="1" stroke-linecap="butt"/>
<text x="75.10" y="404.93" font-size="7.0" text-anchor="end" fill="#111">0.3</text>
<line x1="76.10" y1="388.52" x2="80.50" y2="388.52" stroke="#111" stroke-width="1" stroke-linecap="butt"/>
<text x="75.10" y="391.04" font-size="7.0" text-anchor="end" fill="#111">0.6</text>
<line x1="76.10" y1="374.63" x2="80.50" y2="374.63" stroke="#111" stroke-width="1" stroke-linecap="butt"/>
<text x="75.10" y="377.15" font-size="7.0" text-anchor="end" fill="#111">0.9</text>
<line x1="76.10" y1="360.74" x2="80.50" y2="360.74" stroke="#111" stroke-width="1" stroke-linecap="butt"/>
<text x="75.10" y="363.26" font-size="7.0" text-anchor="end" fill="#111">1.2</text>
<line x1="80.00" y1="416.30" x2="280.00" y2="416.30" stroke="#111" stroke-width="1" stroke-linecap="butt"/>
<line x1="89.60" y1="416.30" x2="89.60" y2="419.80" stroke="#111" stroke-width="1" stroke-linecap="butt"/>
<line x1="107.65" y1="416.30" x2="107.65" y2="419.80" stroke="#111" stroke-width="1" stroke-linecap="butt"/>
<line x1="125.70" y1="416.30" x2="125.70" y2="419.80" stroke="#111" stroke-width="1" stroke-linecap="butt"/>
<line x1="143.75" y1="416.30" x2="143.75" y2="419.80" stroke="#111" stroke-width="1" stroke-linecap="butt"/>
<line x1="161.80" y1="416.30" x2="161.80" y2="419.80" stroke="#111" stroke-width="1" stroke-linecap="butt"/>
<line x1="179.85" y1="416.30" x2="179.85" y2="419.80" stroke="#111" stroke-width="1" stroke-linecap="butt"/>
<line x1="197.90" y1="416.30" x2="197.90" y2="419.80" stroke="#111" stroke-width="1" stroke-linecap="butt"/>
<line x1="215.95" y1="416.30" x2="215.95" y2="419.80" stroke="#111" stroke-width="1" stroke-linecap="butt"/>
<line x1="234.00" y1="416.30" x2="234.00" y2="419.80" stroke="#111" stroke-width="1" stroke-linecap="butt"/>
<line x1="252.05" y1="416.30" x2="252.05" y2="419.80" stroke="#111" stroke-width="1" stroke-linecap="butt"/>
<line x1="270.10" y1="416.30" x2="270.10" y2="419.80" stroke="#111" stroke-width="1" stroke-linecap="butt"/>
<text x="60.80" y="385.20" font-size="9.2" text-anchor="middle" fill="#111" transform="rotate(-90 60.80 385.20)">Glutamate</text>
<text x="90.88" y="380.00" font-size="6.8" text-anchor="middle" fill="#000" font-weight="bold" letter-spacing="0.75" stroke="#000" stroke-width="0.3">***</text>
<text x="108.83" y="351.20" font-size="5.0" text-anchor="middle" fill="#000" font-weight="bold" letter-spacing="0.55" stroke="#000" stroke-width="0.3">*</text>
<text x="199.18" y="359.40" font-size="6.8" text-anchor="middle" fill="#000" font-weight="bold" letter-spacing="0.75" stroke="#000" stroke-width="0.3">**</text>
<text x="235.28" y="370.20" font-size="6.8" text-anchor="middle" fill="#000" font-weight="bold" letter-spacing="0.75" stroke="#000" stroke-width="0.3">*</text>
<text x="271.38" y="368.90" font-size="6.8" text-anchor="middle" fill="#000" font-weight="bold" letter-spacing="0.75" stroke="#000" stroke-width="0.3">**</text>
<line x1="98.62" y1="433.80" x2="98.62" y2="496.30" stroke="#444" stroke-width="0.75" stroke-dasharray="1 1.3" stroke-linecap="butt"/>
<line x1="116.67" y1="433.80" x2="116.67" y2="496.30" stroke="#444" stroke-width="0.75" stroke-dasharray="1 1.3" stroke-linecap="butt"/>
<line x1="134.72" y1="433.80" x2="134.72" y2="496.30" stroke="#444" stroke-width="0.75" stroke-dasharray="1 1.3" stroke-linecap="butt"/>
<line x1="152.78" y1="433.80" x2="152.78" y2="496.30" stroke="#444" stroke-width="0.75" stroke-dasharray="1 1.3" stroke-linecap="butt"/>
<line x1="170.82" y1="433.80" x2="170.82" y2="496.30" stroke="#444" stroke-width="0.75" stroke-dasharray="1 1.3" stroke-linecap="butt"/>
<line x1="188.88" y1="433.80" x2="188.88" y2="496.30" stroke="#444" stroke-width="0.75" stroke-dasharray="1 1.3" stroke-linecap="butt"/>
<line x1="206.93" y1="433.80" x2="206.93" y2="496.30" stroke="#444" stroke-width="0.75" stroke-dasharray="1 1.3" stroke-linecap="butt"/>
<line x1="224.97" y1="433.80" x2="224.97" y2="496.30" stroke="#444" stroke-width="0.75" stroke-dasharray="1 1.3" stroke-linecap="butt"/>
<line x1="243.03" y1="433.80" x2="243.03" y2="496.30" stroke="#444" stroke-width="0.75" stroke-dasharray="1 1.3" stroke-linecap="butt"/>
<line x1="261.08" y1="433.80" x2="261.08" y2="496.30" stroke="#444" stroke-width="0.75" stroke-dasharray="1 1.3" stroke-linecap="butt"/>
<line x1="89.60" y1="478.00" x2="89.60" y2="481.30" stroke="#111" stroke-width="1" stroke-linecap="butt"/>
<line x1="86.60" y1="478.00" x2="92.60" y2="478.00" stroke="#111" stroke-width="1" stroke-linecap="butt"/>
<rect x="83.60" y="481.30" width="12.00" height="15.00" fill="#fff" stroke="#111" stroke-width="1"/>
<line x1="125.70" y1="454.50" x2="125.70" y2="458.00" stroke="#111" stroke-width="1" stroke-linecap="butt"/>
<line x1="122.70" y1="454.50" x2="128.70" y2="454.50" stroke="#111" stroke-width="1" stroke-linecap="butt"/>
<rect x="119.70" y="458.00" width="12.00" height="38.30" fill="#fff" stroke="#111" stroke-width="1"/>
<line x1="143.75" y1="447.50" x2="143.75" y2="452.50" stroke="#111" stroke-width="1" stroke-linecap="butt"/>
<line x1="140.75" y1="447.50" x2="146.75" y2="447.50" stroke="#111" stroke-width="1" stroke-linecap="butt"/>
<rect x="137.75" y="452.50" width="12.00" height="43.80" fill="#fff" stroke="#111" stroke-width="1"/>
<line x1="161.80" y1="453.30" x2="161.80" y2="457.00" stroke="#111" stroke-width="1" stroke-linecap="butt"/>
<line x1="158.80" y1="453.30" x2="164.80" y2="453.30" stroke="#111" stroke-width="1" stroke-linecap="butt"/>
<rect x="155.80" y="457.00" width="12.00" height="39.30" fill="#fff" stroke="#111" stroke-width="1"/>
<line x1="179.85" y1="438.00" x2="179.85" y2="448.80" stroke="#111" stroke-width="1" stroke-linecap="butt"/>
<line x1="176.85" y1="438.00" x2="182.85" y2="438.00" stroke="#111" stroke-width="1" stroke-linecap="butt"/>
<rect x="173.85" y="448.80" width="12.00" height="47.50" fill="#fff" stroke="#111" stroke-width="1"/>
<line x1="197.90" y1="444.50" x2="197.90" y2="447.50" stroke="#111" stroke-width="1" stroke-linecap="butt"/>
<line x1="194.90" y1="444.50" x2="200.90" y2="444.50" stroke="#111" stroke-width="1" stroke-linecap="butt"/>
<rect x="191.90" y="447.50" width="12.00" height="48.80" fill="#fff" stroke="#111" stroke-width="1"/>
<line x1="215.95" y1="447.50" x2="215.95" y2="453.50" stroke="#111" stroke-width="1" stroke-linecap="butt"/>
<line x1="212.95" y1="447.50" x2="218.95" y2="447.50" stroke="#111" stroke-width="1" stroke-linecap="butt"/>
<rect x="209.95" y="453.50" width="12.00" height="42.80" fill="#fff" stroke="#111" stroke-width="1"/>
<line x1="234.00" y1="455.50" x2="234.00" y2="457.50" stroke="#111" stroke-width="1" stroke-linecap="butt"/>
<line x1="231.00" y1="455.50" x2="237.00" y2="455.50" stroke="#111" stroke-width="1" stroke-linecap="butt"/>
<rect x="228.00" y="457.50" width="12.00" height="38.80" fill="#fff" stroke="#111" stroke-width="1"/>
<line x1="252.05" y1="443.00" x2="252.05" y2="452.50" stroke="#111" stroke-width="1" stroke-linecap="butt"/>
<line x1="249.05" y1="443.00" x2="255.05" y2="443.00" stroke="#111" stroke-width="1" stroke-linecap="butt"/>
<rect x="246.05" y="452.50" width="12.00" height="43.80" fill="#fff" stroke="#111" stroke-width="1"/>
<line x1="270.10" y1="473.80" x2="270.10" y2="475.00" stroke="#111" stroke-width="1" stroke-linecap="butt"/>
<line x1="267.10" y1="473.80" x2="273.10" y2="473.80" stroke="#111" stroke-width="1" stroke-linecap="butt"/>
<rect x="264.10" y="475.00" width="12.00" height="21.30" fill="#fff" stroke="#111" stroke-width="1"/>
<line x1="80.50" y1="449.50" x2="280.00" y2="449.50" stroke="#3a3a3a" stroke-width="0.95" stroke-dasharray="1.9 1.9" stroke-linecap="butt"/>
<line x1="80.50" y1="430.00" x2="80.50" y2="496.80" stroke="#111" stroke-width="1" stroke-linecap="butt"/>
<line x1="76.10" y1="496.30" x2="80.50" y2="496.30" stroke="#111" stroke-width="1" stroke-linecap="butt"/>
<text x="75.10" y="498.82" font-size="7.0" text-anchor="end" fill="#111">0.0</text>
<line x1="76.10" y1="482.23" x2="80.50" y2="482.23" stroke="#111" stroke-width="1" stroke-linecap="butt"/>
<text x="75.10" y="484.75" font-size="7.0" text-anchor="end" fill="#111">0.3</text>
<line x1="76.10" y1="468.16" x2="80.50" y2="468.16" stroke="#111" stroke-width="1" stroke-linecap="butt"/>
<text x="75.10" y="470.68" font-size="7.0" text-anchor="end" fill="#111">0.6</text>
<line x1="76.10" y1="454.09" x2="80.50" y2="454.09" stroke="#111" stroke-width="1" stroke-linecap="butt"/>
<text x="75.10" y="456.61" font-size="7.0" text-anchor="end" fill="#111">0.9</text>
<line x1="76.10" y1="440.02" x2="80.50" y2="440.02" stroke="#111" stroke-width="1" stroke-linecap="butt"/>
<text x="75.10" y="442.54" font-size="7.0" text-anchor="end" fill="#111">1.2</text>
<line x1="80.00" y1="496.30" x2="280.00" y2="496.30" stroke="#111" stroke-width="1" stroke-linecap="butt"/>
<line x1="89.60" y1="496.30" x2="89.60" y2="499.80" stroke="#111" stroke-width="1" stroke-linecap="butt"/>
<line x1="107.65" y1="496.30" x2="107.65" y2="499.80" stroke="#111" stroke-width="1" stroke-linecap="butt"/>
<line x1="125.70" y1="496.30" x2="125.70" y2="499.80" stroke="#111" stroke-width="1" stroke-linecap="butt"/>
<line x1="143.75" y1="496.30" x2="143.75" y2="499.80" stroke="#111" stroke-width="1" stroke-linecap="butt"/>
<line x1="161.80" y1="496.30" x2="161.80" y2="499.80" stroke="#111" stroke-width="1" stroke-linecap="butt"/>
<line x1="179.85" y1="496.30" x2="179.85" y2="499.80" stroke="#111" stroke-width="1" stroke-linecap="butt"/>
<line x1="197.90" y1="496.30" x2="197.90" y2="499.80" stroke="#111" stroke-width="1" stroke-linecap="butt"/>
<line x1="215.95" y1="496.30" x2="215.95" y2="499.80" stroke="#111" stroke-width="1" stroke-linecap="butt"/>
<line x1="234.00" y1="496.30" x2="234.00" y2="499.80" stroke="#111" stroke-width="1" stroke-linecap="butt"/>
<line x1="252.05" y1="496.30" x2="252.05" y2="499.80" stroke="#111" stroke-width="1" stroke-linecap="butt"/>
<line x1="270.10" y1="496.30" x2="270.10" y2="499.80" stroke="#111" stroke-width="1" stroke-linecap="butt"/>
<text x="60.80" y="464.90" font-size="9.2" text-anchor="middle" fill="#111" transform="rotate(-90 60.80 464.90)">Aspartate</text>
<text x="90.87" y="469.50" font-size="6.6" text-anchor="middle" fill="#000" font-weight="bold" letter-spacing="0.73" stroke="#000" stroke-width="0.3">**</text>
<text x="235.27" y="448.30" font-size="6.6" text-anchor="middle" fill="#000" font-weight="bold" letter-spacing="0.73" stroke="#000" stroke-width="0.3">**</text>
<text x="271.37" y="471.30" font-size="6.6" text-anchor="middle" fill="#000" font-weight="bold" letter-spacing="0.73" stroke="#000" stroke-width="0.3">****</text>
<text x="107.95" y="492.40" font-size="9.0" text-anchor="middle" fill="#111">ND</text>
<path d="M53.8 263.0 H46.4 V494.9 H53.8" fill="none" stroke="#111" stroke-width="1"/>
<text x="30.20" y="378.50" font-size="9.3" text-anchor="middle" fill="#111" transform="rotate(-90 30.20 378.50)" textLength="115.00" lengthAdjust="spacingAndGlyphs">Change in metabolite levels</text>
<text x="41.70" y="379.30" font-size="9.3" text-anchor="middle" fill="#111" transform="rotate(-90 41.70 379.30)" textLength="145.00" lengthAdjust="spacingAndGlyphs">(CB-839 relative to vehicle control)</text>
<text x="91.55" y="507.00" font-size="9.0" text-anchor="end" fill="#111" transform="rotate(-45 91.55 507.00)">HCC1806</text>
<text x="109.58" y="507.00" font-size="9.0" text-anchor="end" fill="#111" transform="rotate(-45 109.58 507.00)">Plasma</text>
<text x="127.61" y="507.00" font-size="9.0" text-anchor="end" fill="#111" transform="rotate(-45 127.61 507.00)">Brain</text>
<text x="145.64" y="507.00" font-size="9.0" text-anchor="end" fill="#111" transform="rotate(-45 145.64 507.00)">Colon</text>
<text x="163.67" y="507.00" font-size="9.0" text-anchor="end" fill="#111" transform="rotate(-45 163.67 507.00)">Heart</text>
<text x="181.70" y="507.00" font-size="9.0" text-anchor="end" fill="#111" transform="rotate(-45 181.70 507.00)">Intestine</text>
<text x="199.73" y="507.00" font-size="9.0" text-anchor="end" fill="#111" transform="rotate(-45 199.73 507.00)">Kidney</text>
<text x="217.76" y="507.00" font-size="9.0" text-anchor="end" fill="#111" transform="rotate(-45 217.76 507.00)">Liver</text>
<text x="235.79" y="507.00" font-size="9.0" text-anchor="end" fill="#111" transform="rotate(-45 235.79 507.00)">Lung</text>
<text x="253.82" y="507.00" font-size="9.0" text-anchor="end" fill="#111" transform="rotate(-45 253.82 507.00)">Muscle</text>
<text x="271.85" y="507.00" font-size="9.0" text-anchor="end" fill="#111" transform="rotate(-45 271.85 507.00)">Spleen</text>
<text x="405.70" y="190.30" font-size="9.5" text-anchor="middle" fill="#111" font-weight="bold" textLength="116.40" lengthAdjust="spacingAndGlyphs">Patient-derived xenograft</text>
<text x="406.00" y="202.00" font-size="9.3" text-anchor="middle" fill="#111" font-weight="bold">(CTG-0052)</text>
<line x1="355.40" y1="297.50" x2="454.50" y2="297.50" stroke="#333" stroke-width="0.9" stroke-dasharray="1 1.3" stroke-linecap="butt"/>
<line x1="355.40" y1="205.49" x2="355.40" y2="306.00" stroke="#111" stroke-width="1" stroke-linecap="butt"/>
<line x1="351.00" y1="305.50" x2="355.40" y2="305.50" stroke="#111" stroke-width="1" stroke-linecap="butt"/>
<text x="350.00" y="308.02" font-size="7.0" text-anchor="end" fill="#111">0</text>
<line x1="351.00" y1="272.33" x2="355.40" y2="272.33" stroke="#111" stroke-width="1" stroke-linecap="butt"/>
<text x="350.00" y="274.85" font-size="7.0" text-anchor="end" fill="#111">500</text>
<line x1="351.00" y1="239.16" x2="355.40" y2="239.16" stroke="#111" stroke-width="1" stroke-linecap="butt"/>
<text x="350.00" y="241.68" font-size="7.0" text-anchor="end" fill="#111">1,000</text>
<line x1="351.00" y1="205.99" x2="355.40" y2="205.99" stroke="#111" stroke-width="1" stroke-linecap="butt"/>
<text x="350.00" y="208.51" font-size="7.0" text-anchor="end" fill="#111">1,500</text>
<line x1="354.90" y1="305.50" x2="457.50" y2="305.50" stroke="#111" stroke-width="1" stroke-linecap="butt"/>
<line x1="370.40" y1="305.50" x2="370.40" y2="309.00" stroke="#111" stroke-width="1" stroke-linecap="butt"/>
<text x="370.40" y="318.30" font-size="6.8" text-anchor="middle" fill="#111">0</text>
<line x1="382.48" y1="305.50" x2="382.48" y2="309.00" stroke="#111" stroke-width="1" stroke-linecap="butt"/>
<text x="382.48" y="318.30" font-size="6.8" text-anchor="middle" fill="#111">4</text>
<line x1="394.56" y1="305.50" x2="394.56" y2="309.00" stroke="#111" stroke-width="1" stroke-linecap="butt"/>
<text x="394.56" y="318.30" font-size="6.8" text-anchor="middle" fill="#111">8</text>
<line x1="406.64" y1="305.50" x2="406.64" y2="309.00" stroke="#111" stroke-width="1" stroke-linecap="butt"/>
<text x="406.64" y="318.30" font-size="6.8" text-anchor="middle" fill="#111">12</text>
<line x1="418.72" y1="305.50" x2="418.72" y2="309.00" stroke="#111" stroke-width="1" stroke-linecap="butt"/>
<text x="418.72" y="318.30" font-size="6.8" text-anchor="middle" fill="#111">16</text>
<line x1="430.80" y1="305.50" x2="430.80" y2="309.00" stroke="#111" stroke-width="1" stroke-linecap="butt"/>
<text x="430.80" y="318.30" font-size="6.8" text-anchor="middle" fill="#111">20</text>
<line x1="442.88" y1="305.50" x2="442.88" y2="309.00" stroke="#111" stroke-width="1" stroke-linecap="butt"/>
<text x="442.88" y="318.30" font-size="6.8" text-anchor="middle" fill="#111">24</text>
<line x1="454.96" y1="305.50" x2="454.96" y2="309.00" stroke="#111" stroke-width="1" stroke-linecap="butt"/>
<text x="454.96" y="318.30" font-size="6.8" text-anchor="middle" fill="#111">28</text>
<line x1="412.68" y1="290.30" x2="412.68" y2="294.00" stroke="#111" stroke-width="1" stroke-linecap="butt"/>
<line x1="409.98" y1="290.30" x2="415.38" y2="290.30" stroke="#111" stroke-width="1" stroke-linecap="butt"/>
<line x1="409.98" y1="294.00" x2="415.38" y2="294.00" stroke="#111" stroke-width="1" stroke-linecap="butt"/>
<line x1="421.74" y1="287.00" x2="421.74" y2="291.50" stroke="#111" stroke-width="1" stroke-linecap="butt"/>
<line x1="419.04" y1="287.00" x2="424.44" y2="287.00" stroke="#111" stroke-width="1" stroke-linecap="butt"/>
<line x1="419.04" y1="291.50" x2="424.44" y2="291.50" stroke="#111" stroke-width="1" stroke-linecap="butt"/>
<line x1="433.82" y1="280.00" x2="433.82" y2="285.90" stroke="#111" stroke-width="1" stroke-linecap="butt"/>
<line x1="431.12" y1="280.00" x2="436.52" y2="280.00" stroke="#111" stroke-width="1" stroke-linecap="butt"/>
<line x1="431.12" y1="285.90" x2="436.52" y2="285.90" stroke="#111" stroke-width="1" stroke-linecap="butt"/>
<line x1="442.88" y1="273.30" x2="442.88" y2="282.00" stroke="#111" stroke-width="1" stroke-linecap="butt"/>
<line x1="440.18" y1="273.30" x2="445.58" y2="273.30" stroke="#111" stroke-width="1" stroke-linecap="butt"/>
<line x1="440.18" y1="282.00" x2="445.58" y2="282.00" stroke="#111" stroke-width="1" stroke-linecap="butt"/>
<line x1="454.96" y1="260.00" x2="454.96" y2="272.90" stroke="#111" stroke-width="1" stroke-linecap="butt"/>
<line x1="452.26" y1="260.00" x2="457.66" y2="260.00" stroke="#111" stroke-width="1" stroke-linecap="butt"/>
<line x1="452.26" y1="272.90" x2="457.66" y2="272.90" stroke="#111" stroke-width="1" stroke-linecap="butt"/>
<polyline points="361.34,297.40 370.40,296.60 376.44,297.40 391.54,296.60 400.60,296.40 412.68,292.20 421.74,289.30 433.82,283.00 442.88,278.00 454.96,266.20" fill="none" stroke="#111" stroke-width="1.1"/>
<rect x="359.29" y="295.35" width="4.10" height="4.10" fill="#111" stroke="#111" stroke-width="0.5"/>
<rect x="368.35" y="294.55" width="4.10" height="4.10" fill="#111" stroke="#111" stroke-width="0.5"/>
<rect x="374.39" y="295.35" width="4.10" height="4.10" fill="#111" stroke="#111" stroke-width="0.5"/>
<rect x="389.49" y="294.55" width="4.10" height="4.10" fill="#111" stroke="#111" stroke-width="0.5"/>
<rect x="398.55" y="294.35" width="4.10" height="4.10" fill="#111" stroke="#111" stroke-width="0.5"/>
<rect x="410.63" y="290.15" width="4.10" height="4.10" fill="#111" stroke="#111" stroke-width="0.5"/>
<rect x="419.69" y="287.25" width="4.10" height="4.10" fill="#111" stroke="#111" stroke-width="0.5"/>
<rect x="431.77" y="280.95" width="4.10" height="4.10" fill="#111" stroke="#111" stroke-width="0.5"/>
<rect x="440.83" y="275.95" width="4.10" height="4.10" fill="#111" stroke="#111" stroke-width="0.5"/>
<rect x="452.91" y="264.15" width="4.10" height="4.10" fill="#111" stroke="#111" stroke-width="0.5"/>
<line x1="412.68" y1="274.30" x2="412.68" y2="280.90" stroke="#111" stroke-width="1" stroke-linecap="butt"/>
<line x1="409.98" y1="274.30" x2="415.38" y2="274.30" stroke="#111" stroke-width="1" stroke-linecap="butt"/>
<line x1="409.98" y1="280.90" x2="415.38" y2="280.90" stroke="#111" stroke-width="1" stroke-linecap="butt"/>
<line x1="421.74" y1="262.00" x2="421.74" y2="273.50" stroke="#111" stroke-width="1" stroke-linecap="butt"/>
<line x1="419.04" y1="262.00" x2="424.44" y2="262.00" stroke="#111" stroke-width="1" stroke-linecap="butt"/>
<line x1="419.04" y1="273.50" x2="424.44" y2="273.50" stroke="#111" stroke-width="1" stroke-linecap="butt"/>
<line x1="433.82" y1="245.50" x2="433.82" y2="262.00" stroke="#111" stroke-width="1" stroke-linecap="butt"/>
<line x1="431.12" y1="245.50" x2="436.52" y2="245.50" stroke="#111" stroke-width="1" stroke-linecap="butt"/>
<line x1="431.12" y1="262.00" x2="436.52" y2="262.00" stroke="#111" stroke-width="1" stroke-linecap="butt"/>
<line x1="442.88" y1="233.40" x2="442.88" y2="250.40" stroke="#111" stroke-width="1" stroke-linecap="butt"/>
<line x1="440.18" y1="233.40" x2="445.58" y2="233.40" stroke="#111" stroke-width="1" stroke-linecap="butt"/>
<line x1="440.18" y1="250.40" x2="445.58" y2="250.40" stroke="#111" stroke-width="1" stroke-linecap="butt"/>
<line x1="454.96" y1="210.00" x2="454.96" y2="231.00" stroke="#111" stroke-width="1" stroke-linecap="butt"/>
<line x1="452.26" y1="210.00" x2="457.66" y2="210.00" stroke="#111" stroke-width="1" stroke-linecap="butt"/>
<line x1="452.26" y1="231.00" x2="457.66" y2="231.00" stroke="#111" stroke-width="1" stroke-linecap="butt"/>
<polyline points="361.34,297.40 370.40,296.00 376.44,292.50 391.54,288.70 400.60,285.60 412.68,277.80 421.74,268.00 433.82,254.10 442.88,242.00 454.96,220.40" fill="none" stroke="#111" stroke-width="1.1"/>
<circle cx="361.34" cy="297.40" r="2.4" fill="#fff" stroke="#111" stroke-width="1"/>
<circle cx="370.40" cy="296.00" r="2.4" fill="#fff" stroke="#111" stroke-width="1"/>
<circle cx="376.44" cy="292.50" r="2.4" fill="#fff" stroke="#111" stroke-width="1"/>
<circle cx="391.54" cy="288.70" r="2.4" fill="#fff" stroke="#111" stroke-width="1"/>
<circle cx="400.60" cy="285.60" r="2.4" fill="#fff" stroke="#111" stroke-width="1"/>
<circle cx="412.68" cy="277.80" r="2.4" fill="#fff" stroke="#111" stroke-width="1"/>
<circle cx="421.74" cy="268.00" r="2.4" fill="#fff" stroke="#111" stroke-width="1"/>
<circle cx="433.82" cy="254.10" r="2.4" fill="#fff" stroke="#111" stroke-width="1"/>
<circle cx="442.88" cy="242.00" r="2.4" fill="#fff" stroke="#111" stroke-width="1"/>
<circle cx="454.96" cy="220.40" r="2.4" fill="#fff" stroke="#111" stroke-width="1"/>
<path d="M461.4 218.7 H467.7 V265.6 H461.4" fill="none" stroke="#111" stroke-width="1"/>
<text x="474.71" y="245.55" font-size="7.3" text-anchor="middle" fill="#000" font-weight="bold" letter-spacing="0.81" stroke="#000" stroke-width="0.3">**</text>
<text x="404.60" y="332.30" font-size="9.5" text-anchor="middle" fill="#111" textLength="42.00" lengthAdjust="spacingAndGlyphs">Study day</text>
<text x="327.50" y="257.30" font-size="9.5" text-anchor="middle" fill="#111" transform="rotate(-90 327.50 257.30)">Tumor volume (mm<tspan font-size="6" dy="-3.2">3</tspan><tspan dy="3.2">)</tspan></text>
<line x1="359.30" y1="340.70" x2="374.00" y2="340.70" stroke="#111" stroke-width="1.1" stroke-linecap="butt"/>
<circle cx="366.60" cy="340.70" r="2.1" fill="#fff" stroke="#111" stroke-width="1"/>
<text x="383.00" y="343.20" font-size="7.8" text-anchor="start" fill="#111">Vehicle</text>
<line x1="421.20" y1="340.70" x2="436.50" y2="340.70" stroke="#111" stroke-width="1.1" stroke-linecap="butt"/>
<rect x="427.05" y="338.85" width="3.70" height="3.70" fill="#111" stroke="#111" stroke-width="0.5"/>
<text x="445.40" y="343.20" font-size="7.8" text-anchor="start" fill="#111">CB-839</text>
<text x="390.40" y="374.90" font-size="9.4" text-anchor="middle" fill="#111" font-weight="bold">JIMT-1</text>
<line x1="340.60" y1="463.00" x2="443.00" y2="463.00" stroke="#444" stroke-width="1.1" stroke-dasharray="1 1.2" stroke-linecap="butt"/>
<line x1="340.60" y1="378.32" x2="340.60" y2="479.00" stroke="#111" stroke-width="1" stroke-linecap="butt"/>
<line x1="336.20" y1="478.50" x2="340.60" y2="478.50" stroke="#111" stroke-width="1" stroke-linecap="butt"/>
<text x="335.20" y="481.02" font-size="7.0" text-anchor="end" fill="#111">0</text>
<line x1="336.20" y1="453.58" x2="340.60" y2="453.58" stroke="#111" stroke-width="1" stroke-linecap="butt"/>
<text x="335.20" y="456.10" font-size="7.0" text-anchor="end" fill="#111">200</text>
<line x1="336.20" y1="428.66" x2="340.60" y2="428.66" stroke="#111" stroke-width="1" stroke-linecap="butt"/>
<text x="335.20" y="431.18" font-size="7.0" text-anchor="end" fill="#111">400</text>
<line x1="336.20" y1="403.74" x2="340.60" y2="403.74" stroke="#111" stroke-width="1" stroke-linecap="butt"/>
<text x="335.20" y="406.26" font-size="7.0" text-anchor="end" fill="#111">600</text>
<line x1="336.20" y1="378.82" x2="340.60" y2="378.82" stroke="#111" stroke-width="1" stroke-linecap="butt"/>
<text x="335.20" y="381.34" font-size="7.0" text-anchor="end" fill="#111">800</text>
<line x1="340.10" y1="478.50" x2="441.50" y2="478.50" stroke="#111" stroke-width="1" stroke-linecap="butt"/>
<line x1="340.80" y1="478.50" x2="340.80" y2="482.00" stroke="#111" stroke-width="1" stroke-linecap="butt"/>
<text x="340.80" y="490.80" font-size="6.8" text-anchor="middle" fill="#111">0</text>
<line x1="360.68" y1="478.50" x2="360.68" y2="482.00" stroke="#111" stroke-width="1" stroke-linecap="butt"/>
<text x="360.68" y="490.80" font-size="6.8" text-anchor="middle" fill="#111">7</text>
<line x1="380.56" y1="478.50" x2="380.56" y2="482.00" stroke="#111" stroke-width="1" stroke-linecap="butt"/>
<text x="380.56" y="490.80" font-size="6.8" text-anchor="middle" fill="#111">14</text>
<line x1="400.44" y1="478.50" x2="400.44" y2="482.00" stroke="#111" stroke-width="1" stroke-linecap="butt"/>
<text x="400.44" y="490.80" font-size="6.8" text-anchor="middle" fill="#111">21</text>
<line x1="420.32" y1="478.50" x2="420.32" y2="482.00" stroke="#111" stroke-width="1" stroke-linecap="butt"/>
<text x="420.32" y="490.80" font-size="6.8" text-anchor="middle" fill="#111">28</text>
<line x1="440.20" y1="478.50" x2="440.20" y2="482.00" stroke="#111" stroke-width="1" stroke-linecap="butt"/>
<text x="440.20" y="490.80" font-size="6.8" text-anchor="middle" fill="#111">35</text>
<line x1="380.56" y1="444.80" x2="380.56" y2="448.80" stroke="#111" stroke-width="1" stroke-linecap="butt"/>
<line x1="377.86" y1="444.80" x2="383.26" y2="444.80" stroke="#111" stroke-width="1" stroke-linecap="butt"/>
<line x1="377.86" y1="448.80" x2="383.26" y2="448.80" stroke="#111" stroke-width="1" stroke-linecap="butt"/>
<line x1="389.08" y1="439.60" x2="389.08" y2="445.60" stroke="#111" stroke-width="1" stroke-linecap="butt"/>
<line x1="386.38" y1="439.60" x2="391.78" y2="439.60" stroke="#111" stroke-width="1" stroke-linecap="butt"/>
<line x1="386.38" y1="445.60" x2="391.78" y2="445.60" stroke="#111" stroke-width="1" stroke-linecap="butt"/>
<line x1="400.44" y1="433.40" x2="400.44" y2="439.40" stroke="#111" stroke-width="1" stroke-linecap="butt"/>
<line x1="397.74" y1="433.40" x2="403.14" y2="433.40" stroke="#111" stroke-width="1" stroke-linecap="butt"/>
<line x1="397.74" y1="439.40" x2="403.14" y2="439.40" stroke="#111" stroke-width="1" stroke-linecap="butt"/>
<line x1="408.96" y1="425.00" x2="408.96" y2="434.00" stroke="#111" stroke-width="1" stroke-linecap="butt"/>
<line x1="406.26" y1="425.00" x2="411.66" y2="425.00" stroke="#111" stroke-width="1" stroke-linecap="butt"/>
<line x1="406.26" y1="434.00" x2="411.66" y2="434.00" stroke="#111" stroke-width="1" stroke-linecap="butt"/>
<line x1="420.32" y1="405.20" x2="420.32" y2="415.20" stroke="#111" stroke-width="1" stroke-linecap="butt"/>
<line x1="417.62" y1="405.20" x2="423.02" y2="405.20" stroke="#111" stroke-width="1" stroke-linecap="butt"/>
<line x1="417.62" y1="415.20" x2="423.02" y2="415.20" stroke="#111" stroke-width="1" stroke-linecap="butt"/>
<line x1="428.84" y1="394.20" x2="428.84" y2="409.20" stroke="#111" stroke-width="1" stroke-linecap="butt"/>
<line x1="426.14" y1="394.20" x2="431.54" y2="394.20" stroke="#111" stroke-width="1" stroke-linecap="butt"/>
<line x1="426.14" y1="409.20" x2="431.54" y2="409.20" stroke="#111" stroke-width="1" stroke-linecap="butt"/>
<line x1="440.20" y1="381.70" x2="440.20" y2="400.70" stroke="#111" stroke-width="1" stroke-linecap="butt"/>
<line x1="437.50" y1="381.70" x2="442.90" y2="381.70" stroke="#111" stroke-width="1" stroke-linecap="butt"/>
<line x1="437.50" y1="400.70" x2="442.90" y2="400.70" stroke="#111" stroke-width="1" stroke-linecap="butt"/>
<polyline points="340.80,462.80 349.32,463.00 360.68,454.30 369.20,450.70 380.56,446.80 389.08,442.60 400.44,436.40 408.96,429.50 420.32,410.20 428.84,401.70 440.20,391.20" fill="none" stroke="#111" stroke-width="1.1" stroke-dasharray="2.2 1.6"/>
<circle cx="340.80" cy="462.80" r="2.4" fill="#fff" stroke="#111" stroke-width="1"/>
<circle cx="349.32" cy="463.00" r="2.4" fill="#fff" stroke="#111" stroke-width="1"/>
<circle cx="360.68" cy="454.30" r="2.4" fill="#fff" stroke="#111" stroke-width="1"/>
<circle cx="369.20" cy="450.70" r="2.4" fill="#fff" stroke="#111" stroke-width="1"/>
<circle cx="380.56" cy="446.80" r="2.4" fill="#fff" stroke="#111" stroke-width="1"/>
<circle cx="389.08" cy="442.60" r="2.4" fill="#fff" stroke="#111" stroke-width="1"/>
<circle cx="400.44" cy="436.40" r="2.4" fill="#fff" stroke="#111" stroke-width="1"/>
<circle cx="408.96" cy="429.50" r="2.4" fill="#fff" stroke="#111" stroke-width="1"/>
<circle cx="420.32" cy="410.20" r="2.4" fill="#fff" stroke="#111" stroke-width="1"/>
<circle cx="428.84" cy="401.70" r="2.4" fill="#fff" stroke="#111" stroke-width="1"/>
<circle cx="440.20" cy="391.20" r="2.4" fill="#fff" stroke="#111" stroke-width="1"/>
<line x1="380.56" y1="467.50" x2="380.56" y2="470.50" stroke="#111" stroke-width="1" stroke-linecap="butt"/>
<line x1="377.86" y1="467.50" x2="383.26" y2="467.50" stroke="#111" stroke-width="1" stroke-linecap="butt"/>
<line x1="377.86" y1="470.50" x2="383.26" y2="470.50" stroke="#111" stroke-width="1" stroke-linecap="butt"/>
<line x1="389.08" y1="468.20" x2="389.08" y2="471.20" stroke="#111" stroke-width="1" stroke-linecap="butt"/>
<line x1="386.38" y1="468.20" x2="391.78" y2="468.20" stroke="#111" stroke-width="1" stroke-linecap="butt"/>
<line x1="386.38" y1="471.20" x2="391.78" y2="471.20" stroke="#111" stroke-width="1" stroke-linecap="butt"/>
<line x1="400.44" y1="466.00" x2="400.44" y2="470.00" stroke="#111" stroke-width="1" stroke-linecap="butt"/>
<line x1="397.74" y1="466.00" x2="403.14" y2="466.00" stroke="#111" stroke-width="1" stroke-linecap="butt"/>
<line x1="397.74" y1="470.00" x2="403.14" y2="470.00" stroke="#111" stroke-width="1" stroke-linecap="butt"/>
<line x1="408.96" y1="463.80" x2="408.96" y2="467.80" stroke="#111" stroke-width="1" stroke-linecap="butt"/>
<line x1="406.26" y1="463.80" x2="411.66" y2="463.80" stroke="#111" stroke-width="1" stroke-linecap="butt"/>
<line x1="406.26" y1="467.80" x2="411.66" y2="467.80" stroke="#111" stroke-width="1" stroke-linecap="butt"/>
<line x1="420.32" y1="452.50" x2="420.32" y2="457.50" stroke="#111" stroke-width="1" stroke-linecap="butt"/>
<line x1="417.62" y1="452.50" x2="423.02" y2="452.50" stroke="#111" stroke-width="1" stroke-linecap="butt"/>
<line x1="417.62" y1="457.50" x2="423.02" y2="457.50" stroke="#111" stroke-width="1" stroke-linecap="butt"/>
<line x1="428.84" y1="445.50" x2="428.84" y2="451.50" stroke="#111" stroke-width="1" stroke-linecap="butt"/>
<line x1="426.14" y1="445.50" x2="431.54" y2="445.50" stroke="#111" stroke-width="1" stroke-linecap="butt"/>
<line x1="426.14" y1="451.50" x2="431.54" y2="451.50" stroke="#111" stroke-width="1" stroke-linecap="butt"/>
<line x1="440.20" y1="441.00" x2="440.20" y2="448.00" stroke="#111" stroke-width="1" stroke-linecap="butt"/>
<line x1="437.50" y1="441.00" x2="442.90" y2="441.00" stroke="#111" stroke-width="1" stroke-linecap="butt"/>
<line x1="437.50" y1="448.00" x2="442.90" y2="448.00" stroke="#111" stroke-width="1" stroke-linecap="butt"/>
<polyline points="340.80,462.50 349.32,462.00 360.68,456.60 369.20,464.80 380.56,469.00 389.08,469.70 400.44,468.00 408.96,465.80 420.32,455.00 428.84,448.50 440.20,444.50" fill="none" stroke="#111" stroke-width="1.1" stroke-dasharray="1.5 1.5"/>
<path d="M340.80 460.10 L342.90 464.18 L338.70 464.18 Z" fill="#fff" stroke="#111" stroke-width="0.9"/>
<path d="M349.32 459.60 L351.42 463.68 L347.22 463.68 Z" fill="#fff" stroke="#111" stroke-width="0.9"/>
<path d="M360.68 454.20 L362.78 458.28 L358.58 458.28 Z" fill="#fff" stroke="#111" stroke-width="0.9"/>
<path d="M369.20 462.40 L371.30 466.48 L367.10 466.48 Z" fill="#fff" stroke="#111" stroke-width="0.9"/>
<path d="M380.56 466.60 L382.66 470.68 L378.46 470.68 Z" fill="#fff" stroke="#111" stroke-width="0.9"/>
<path d="M389.08 467.30 L391.18 471.38 L386.98 471.38 Z" fill="#fff" stroke="#111" stroke-width="0.9"/>
<path d="M400.44 465.60 L402.54 469.68 L398.34 469.68 Z" fill="#fff" stroke="#111" stroke-width="0.9"/>
<path d="M408.96 463.40 L411.06 467.48 L406.86 467.48 Z" fill="#fff" stroke="#111" stroke-width="0.9"/>
<path d="M420.32 452.60 L422.42 456.68 L418.22 456.68 Z" fill="#fff" stroke="#111" stroke-width="0.9"/>
<path d="M428.84 446.10 L430.94 450.18 L426.74 450.18 Z" fill="#fff" stroke="#111" stroke-width="0.9"/>
<path d="M440.20 442.10 L442.30 446.18 L438.10 446.18 Z" fill="#fff" stroke="#111" stroke-width="0.9"/>
<line x1="380.56" y1="468.50" x2="380.56" y2="470.90" stroke="#111" stroke-width="1" stroke-linecap="butt"/>
<line x1="377.86" y1="468.50" x2="383.26" y2="468.50" stroke="#111" stroke-width="1" stroke-linecap="butt"/>
<line x1="377.86" y1="470.90" x2="383.26" y2="470.90" stroke="#111" stroke-width="1" stroke-linecap="butt"/>
<line x1="389.08" y1="470.10" x2="389.08" y2="472.50" stroke="#111" stroke-width="1" stroke-linecap="butt"/>
<line x1="386.38" y1="470.10" x2="391.78" y2="470.10" stroke="#111" stroke-width="1" stroke-linecap="butt"/>
<line x1="386.38" y1="472.50" x2="391.78" y2="472.50" stroke="#111" stroke-width="1" stroke-linecap="butt"/>
<line x1="400.44" y1="470.80" x2="400.44" y2="473.20" stroke="#111" stroke-width="1" stroke-linecap="butt"/>
<line x1="397.74" y1="470.80" x2="403.14" y2="470.80" stroke="#111" stroke-width="1" stroke-linecap="butt"/>
<line x1="397.74" y1="473.20" x2="403.14" y2="473.20" stroke="#111" stroke-width="1" stroke-linecap="butt"/>
<line x1="408.96" y1="470.80" x2="408.96" y2="473.20" stroke="#111" stroke-width="1" stroke-linecap="butt"/>
<line x1="406.26" y1="470.80" x2="411.66" y2="470.80" stroke="#111" stroke-width="1" stroke-linecap="butt"/>
<line x1="406.26" y1="473.20" x2="411.66" y2="473.20" stroke="#111" stroke-width="1" stroke-linecap="butt"/>
<line x1="420.32" y1="469.50" x2="420.32" y2="471.90" stroke="#111" stroke-width="1" stroke-linecap="butt"/>
<line x1="417.62" y1="469.50" x2="423.02" y2="469.50" stroke="#111" stroke-width="1" stroke-linecap="butt"/>
<line x1="417.62" y1="471.90" x2="423.02" y2="471.90" stroke="#111" stroke-width="1" stroke-linecap="butt"/>
<line x1="428.84" y1="464.30" x2="428.84" y2="467.30" stroke="#111" stroke-width="1" stroke-linecap="butt"/>
<line x1="426.14" y1="464.30" x2="431.54" y2="464.30" stroke="#111" stroke-width="1" stroke-linecap="butt"/>
<line x1="426.14" y1="467.30" x2="431.54" y2="467.30" stroke="#111" stroke-width="1" stroke-linecap="butt"/>
<line x1="440.20" y1="461.20" x2="440.20" y2="465.20" stroke="#111" stroke-width="1" stroke-linecap="butt"/>
<line x1="437.50" y1="461.20" x2="442.90" y2="461.20" stroke="#111" stroke-width="1" stroke-linecap="butt"/>
<line x1="437.50" y1="465.20" x2="442.90" y2="465.20" stroke="#111" stroke-width="1" stroke-linecap="butt"/>
<polyline points="340.80,462.50 349.32,461.00 360.68,458.30 369.20,465.80 380.56,469.70 389.08,471.30 400.44,472.00 408.96,472.00 420.32,470.70 428.84,465.80 440.20,463.20" fill="none" stroke="#111" stroke-width="1.1"/>
<path d="M340.80 464.60 L342.70 460.98 L338.90 460.98 Z" fill="#111" stroke="#111" stroke-width="0.6"/>
<path d="M349.32 463.10 L351.22 459.48 L347.42 459.48 Z" fill="#111" stroke="#111" stroke-width="0.6"/>
<path d="M360.68 460.40 L362.58 456.78 L358.78 456.78 Z" fill="#111" stroke="#111" stroke-width="0.6"/>
<path d="M369.20 467.90 L371.10 464.28 L367.30 464.28 Z" fill="#111" stroke="#111" stroke-width="0.6"/>
<path d="M380.56 471.80 L382.46 468.18 L378.66 468.18 Z" fill="#111" stroke="#111" stroke-width="0.6"/>
<path d="M389.08 473.40 L390.98 469.78 L387.18 469.78 Z" fill="#111" stroke="#111" stroke-width="0.6"/>
<path d="M400.44 474.10 L402.34 470.48 L398.54 470.48 Z" fill="#111" stroke="#111" stroke-width="0.6"/>
<path d="M408.96 474.10 L410.86 470.48 L407.06 470.48 Z" fill="#111" stroke="#111" stroke-width="0.6"/>
<path d="M420.32 472.80 L422.22 469.18 L418.42 469.18 Z" fill="#111" stroke="#111" stroke-width="0.6"/>
<path d="M428.84 467.90 L430.74 464.28 L426.94 464.28 Z" fill="#111" stroke="#111" stroke-width="0.6"/>
<path d="M440.20 465.30 L442.10 461.68 L438.30 461.68 Z" fill="#111" stroke="#111" stroke-width="0.6"/>
<line x1="369.20" y1="453.50" x2="369.20" y2="456.50" stroke="#111" stroke-width="1" stroke-linecap="butt"/>
<line x1="366.50" y1="453.50" x2="371.90" y2="453.50" stroke="#111" stroke-width="1" stroke-linecap="butt"/>
<line x1="366.50" y1="456.50" x2="371.90" y2="456.50" stroke="#111" stroke-width="1" stroke-linecap="butt"/>
<line x1="380.56" y1="447.50" x2="380.56" y2="452.50" stroke="#111" stroke-width="1" stroke-linecap="butt"/>
<line x1="377.86" y1="447.50" x2="383.26" y2="447.50" stroke="#111" stroke-width="1" stroke-linecap="butt"/>
<line x1="377.86" y1="452.50" x2="383.26" y2="452.50" stroke="#111" stroke-width="1" stroke-linecap="butt"/>
<line x1="389.08" y1="445.80" x2="389.08" y2="451.80" stroke="#111" stroke-width="1" stroke-linecap="butt"/>
<line x1="386.38" y1="445.80" x2="391.78" y2="445.80" stroke="#111" stroke-width="1" stroke-linecap="butt"/>
<line x1="386.38" y1="451.80" x2="391.78" y2="451.80" stroke="#111" stroke-width="1" stroke-linecap="butt"/>
<line x1="400.44" y1="444.80" x2="400.44" y2="450.80" stroke="#111" stroke-width="1" stroke-linecap="butt"/>
<line x1="397.74" y1="444.80" x2="403.14" y2="444.80" stroke="#111" stroke-width="1" stroke-linecap="butt"/>
<line x1="397.74" y1="450.80" x2="403.14" y2="450.80" stroke="#111" stroke-width="1" stroke-linecap="butt"/>
<line x1="408.96" y1="443.80" x2="408.96" y2="449.80" stroke="#111" stroke-width="1" stroke-linecap="butt"/>
<line x1="406.26" y1="443.80" x2="411.66" y2="443.80" stroke="#111" stroke-width="1" stroke-linecap="butt"/>
<line x1="406.26" y1="449.80" x2="411.66" y2="449.80" stroke="#111" stroke-width="1" stroke-linecap="butt"/>
<line x1="420.32" y1="431.40" x2="420.32" y2="441.40" stroke="#111" stroke-width="1" stroke-linecap="butt"/>
<line x1="417.62" y1="431.40" x2="423.02" y2="431.40" stroke="#111" stroke-width="1" stroke-linecap="butt"/>
<line x1="417.62" y1="441.40" x2="423.02" y2="441.40" stroke="#111" stroke-width="1" stroke-linecap="butt"/>
<line x1="428.84" y1="424.50" x2="428.84" y2="436.50" stroke="#111" stroke-width="1" stroke-linecap="butt"/>
<line x1="426.14" y1="424.50" x2="431.54" y2="424.50" stroke="#111" stroke-width="1" stroke-linecap="butt"/>
<line x1="426.14" y1="436.50" x2="431.54" y2="436.50" stroke="#111" stroke-width="1" stroke-linecap="butt"/>
<line x1="440.20" y1="423.80" x2="440.20" y2="435.80" stroke="#111" stroke-width="1" stroke-linecap="butt"/>
<line x1="437.50" y1="423.80" x2="442.90" y2="423.80" stroke="#111" stroke-width="1" stroke-linecap="butt"/>
<line x1="437.50" y1="435.80" x2="442.90" y2="435.80" stroke="#111" stroke-width="1" stroke-linecap="butt"/>
<polyline points="340.80,462.50 349.32,460.00 360.68,454.30 369.20,455.00 380.56,450.00 389.08,448.80 400.44,447.80 408.96,446.80 420.32,436.40 428.84,430.50 440.20,429.80" fill="none" stroke="#111" stroke-width="1.1"/>
<rect x="338.75" y="460.45" width="4.10" height="4.10" fill="#111" stroke="#111" stroke-width="0.5"/>
<rect x="347.27" y="457.95" width="4.10" height="4.10" fill="#111" stroke="#111" stroke-width="0.5"/>
<rect x="358.63" y="452.25" width="4.10" height="4.10" fill="#111" stroke="#111" stroke-width="0.5"/>
<rect x="367.15" y="452.95" width="4.10" height="4.10" fill="#111" stroke="#111" stroke-width="0.5"/>
<rect x="378.51" y="447.95" width="4.10" height="4.10" fill="#111" stroke="#111" stroke-width="0.5"/>
<rect x="387.03" y="446.75" width="4.10" height="4.10" fill="#111" stroke="#111" stroke-width="0.5"/>
<rect x="398.39" y="445.75" width="4.10" height="4.10" fill="#111" stroke="#111" stroke-width="0.5"/>
<rect x="406.91" y="444.75" width="4.10" height="4.10" fill="#111" stroke="#111" stroke-width="0.5"/>
<rect x="418.27" y="434.35" width="4.10" height="4.10" fill="#111" stroke="#111" stroke-width="0.5"/>
<rect x="426.79" y="428.45" width="4.10" height="4.10" fill="#111" stroke="#111" stroke-width="0.5"/>
<rect x="438.15" y="427.75" width="4.10" height="4.10" fill="#111" stroke="#111" stroke-width="0.5"/>
<path d="M445.3 392.3 H452.6 V429.9 H445.3" fill="none" stroke="#111" stroke-width="1"/>
<text x="459.31" y="415.00" font-size="7.4" text-anchor="middle" fill="#000" font-weight="bold" letter-spacing="0.82" stroke="#000" stroke-width="0.3">**</text>
<path d="M445.3 444.5 H452.6 V461.8 H445.3" fill="none" stroke="#111" stroke-width="1"/>
<text x="459.31" y="457.70" font-size="7.4" text-anchor="middle" fill="#000" font-weight="bold" letter-spacing="0.82" stroke="#000" stroke-width="0.3">**</text>
<path d="M464.3 392.3 H470.3 V461.8 H464.3" fill="none" stroke="#111" stroke-width="1"/>
<text x="482.86" y="434.30" font-size="8.2" text-anchor="middle" fill="#000" font-weight="bold" letter-spacing="0.91" stroke="#000" stroke-width="0.3">****</text>
<text x="390.20" y="501.80" font-size="9.5" text-anchor="middle" fill="#111" textLength="42.00" lengthAdjust="spacingAndGlyphs">Study day</text>
<text x="310.00" y="428.80" font-size="9.5" text-anchor="middle" fill="#111" transform="rotate(-90 310.00 428.80)">Tumor volume (mm<tspan font-size="6" dy="-3.2">3</tspan><tspan dy="3.2">)</tspan></text>
<line x1="316.00" y1="516.50" x2="332.70" y2="516.50" stroke="#111" stroke-width="1.1" stroke-dasharray="2.2 1.6" stroke-linecap="butt"/>
<circle cx="324.30" cy="516.50" r="2.1" fill="#fff" stroke="#111" stroke-width="1"/>
<text x="340.40" y="519.00" font-size="7.8" text-anchor="start" fill="#111">Vehicle</text>
<line x1="386.50" y1="516.50" x2="402.00" y2="516.50" stroke="#111" stroke-width="1.1" stroke-linecap="butt"/>
<rect x="392.35" y="514.65" width="3.70" height="3.70" fill="#111" stroke="#111" stroke-width="0.5"/>
<text x="410.80" y="519.00" font-size="7.8" text-anchor="start" fill="#111">CB-839</text>
<line x1="316.00" y1="528.00" x2="332.70" y2="528.00" stroke="#111" stroke-width="1.1" stroke-dasharray="1.5 1.5" stroke-linecap="butt"/>
<path d="M324.30 525.60 L326.40 529.68 L322.20 529.68 Z" fill="#fff" stroke="#111" stroke-width="0.9"/>
<text x="340.40" y="530.50" font-size="7.8" text-anchor="start" fill="#111">Paclitaxel</text>
<line x1="386.50" y1="528.00" x2="402.00" y2="528.00" stroke="#111" stroke-width="1.1" stroke-linecap="butt"/>
<path d="M394.20 530.10 L396.10 526.48 L392.30 526.48 Z" fill="#111" stroke="#111" stroke-width="0.6"/>
<text x="410.80" y="530.50" font-size="7.8" text-anchor="start" fill="#111">CB-839 + paclitaxel</text>
<rect x="0.5" y="0.5" width="519" height="547" fill="none" stroke="#6a6a6a" stroke-width="1"/>
<rect x="0" y="546" width="520" height="1" fill="#6a6a6a" opacity="0.4"/>
</svg>
</body></html>
